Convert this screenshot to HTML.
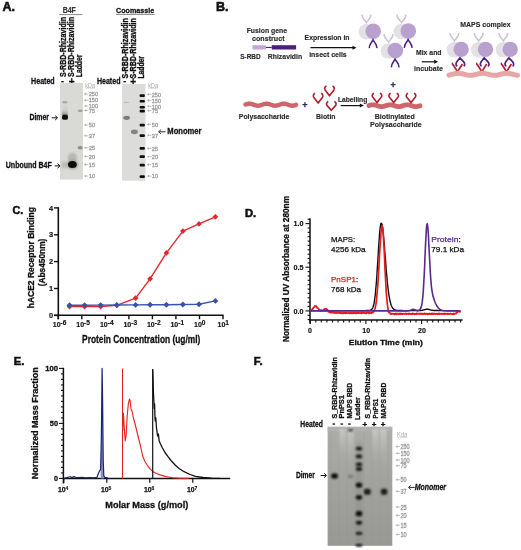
<!DOCTYPE html>
<html><head><meta charset="utf-8"><title>Figure</title>
<style>
html,body{margin:0;padding:0;background:#fff;}
body{width:521px;height:550px;overflow:hidden;}
svg{display:block;font-family:'Liberation Sans', Arial, sans-serif;filter:blur(0.35px);}
</style></head>
<body>
<svg width="521" height="550" viewBox="0 0 521 550">
<defs>
<filter id="b1" x="-50%" y="-50%" width="200%" height="200%"><feGaussianBlur stdDeviation="0.7"/></filter>
<filter id="b2" x="-50%" y="-50%" width="200%" height="200%"><feGaussianBlur stdDeviation="1.2"/></filter>
<filter id="b15" x="-50%" y="-50%" width="200%" height="200%"><feGaussianBlur stdDeviation="0.95"/></filter>
<linearGradient id="smear1" x1="0" y1="0" x2="0" y2="1"><stop offset="0" stop-color="#c8c8c6" stop-opacity="0.1"/><stop offset="0.6" stop-color="#b0b0ae" stop-opacity="0.35"/><stop offset="1" stop-color="#707070" stop-opacity="0.8"/></linearGradient>
<radialGradient id="halo" cx="0.5" cy="0.55" r="0.5"><stop offset="0" stop-color="#777" stop-opacity="0.9"/><stop offset="0.5" stop-color="#aaa" stop-opacity="0.5"/><stop offset="1" stop-color="#d6d6d3" stop-opacity="0"/></radialGradient>
<linearGradient id="fsmear" x1="0" y1="0" x2="0" y2="1"><stop offset="0" stop-color="#cacac6" stop-opacity="0.9"/><stop offset="0.45" stop-color="#bdbdb9" stop-opacity="0.55"/><stop offset="1" stop-color="#aaaaa6" stop-opacity="0"/></linearGradient>
<linearGradient id="fgel" x1="0" y1="0" x2="0" y2="1"><stop offset="0" stop-color="#acada9"/><stop offset="0.5" stop-color="#a1a29e"/><stop offset="1" stop-color="#989995"/></linearGradient>
</defs>
<rect width="521" height="550" fill="#fff"/>
<text x="2.5" y="11.2" font-size="12.5" font-weight="bold" fill="#111" text-anchor="start" stroke="#111" stroke-width="0.6" >A.</text>
<text x="62.7" y="13.0" font-size="8.4" font-weight="bold" fill="#333" text-anchor="start" textLength="13.2" lengthAdjust="spacingAndGlyphs" stroke="#333" stroke-width="0.2" >B4F</text>
<line x1="59.2" y1="14.6" x2="82.3" y2="14.6" stroke="#666" stroke-width="0.8" />
<text transform="translate(65.8,77.0) rotate(-90)" x="0" y="0" font-size="8.6" font-weight="bold" fill="#111" textLength="60.0" lengthAdjust="spacingAndGlyphs" stroke="#111" stroke-width="0.3">S-RBD-Rhizavidin</text>
<text transform="translate(73.8,77.0) rotate(-90)" x="0" y="0" font-size="8.6" font-weight="bold" fill="#111" textLength="60.0" lengthAdjust="spacingAndGlyphs" stroke="#111" stroke-width="0.3">S-RBD-Rhizavidin</text>
<text transform="translate(82.0,77.2) rotate(-90)" x="0" y="0" font-size="8.6" font-weight="bold" fill="#111" textLength="22.6" lengthAdjust="spacingAndGlyphs" stroke="#111" stroke-width="0.3">Ladder</text>
<text x="31.1" y="84.2" font-size="9.6" font-weight="bold" fill="#111" text-anchor="start" textLength="23.6" lengthAdjust="spacingAndGlyphs" stroke="#111" stroke-width="0.3" >Heated</text>
<text x="62.5" y="84.0" font-size="9" font-weight="bold" fill="#111" text-anchor="middle" stroke="#111" stroke-width="0.3" >-</text>
<text x="71.7" y="84.6" font-size="10" font-weight="bold" fill="#111" text-anchor="middle" stroke="#111" stroke-width="0.3" >+</text>
<rect x="60.0" y="83.0" width="23.0" height="96.6" fill="#d9d9d6" />
<rect x="62.0" y="103.5" width="5.8" height="11.5" fill="url(#smear1)" filter="url(#b1)"/>
<g filter="url(#b1)">
<ellipse cx="64.9" cy="102.3" rx="2.9" ry="1.2" fill="#a9a9a7" />
<rect x="62.0" y="114.8" width="6.0" height="4.9" rx="1.6" fill="#0b0b0b"/>
<ellipse cx="80.2" cy="110.7" rx="2.6" ry="1.3" fill="#a2a2a0" />
<ellipse cx="80.2" cy="147.7" rx="2.5" ry="1.8" fill="#8e8e8c" />
</g>
<g filter="url(#b2)">
<ellipse cx="64.2" cy="165.0" rx="3.2" ry="3.4" fill="#bdbdbb" />
<ellipse cx="72.4" cy="158.0" rx="4.5" ry="5.5" fill="#9a9a98" opacity="0.55"/>
<ellipse cx="72.4" cy="164.6" rx="6.0" ry="4.8" fill="#8a8a88" opacity="0.6"/>
</g>
<g filter="url(#b1)">
<ellipse cx="72.4" cy="164.6" rx="4.4" ry="3.5" fill="#0a0a0a" />
</g>
<text x="85.3" y="87.8" font-size="6.4" font-weight="normal" fill="#a6a6a6" text-anchor="start" textLength="9.6" lengthAdjust="spacingAndGlyphs" >kDa</text>
<line x1="85.3" y1="88.2" x2="94.9" y2="88.2" stroke="#c4c4c4" stroke-width="0.6" />
<path d="M84.0,93.9 L85.9,92.6 L85.9,95.2 Z" fill="#a6a6a6"/>
<line x1="85.6" y1="93.9" x2="88.4" y2="93.9" stroke="#a6a6a6" stroke-width="0.7" />
<text x="88.8" y="96.1" font-size="6.0" font-weight="normal" fill="#a0a0a0" text-anchor="start" textLength="9.2" lengthAdjust="spacingAndGlyphs" stroke="#a0a0a0" stroke-width="0.35" >250</text>
<path d="M84.0,100.2 L85.9,98.9 L85.9,101.5 Z" fill="#a6a6a6"/>
<line x1="85.6" y1="100.2" x2="88.4" y2="100.2" stroke="#a6a6a6" stroke-width="0.7" />
<text x="88.8" y="102.4" font-size="6.0" font-weight="normal" fill="#a0a0a0" text-anchor="start" textLength="9.2" lengthAdjust="spacingAndGlyphs" stroke="#a0a0a0" stroke-width="0.35" >150</text>
<path d="M84.0,106.0 L85.9,104.7 L85.9,107.3 Z" fill="#a6a6a6"/>
<line x1="85.6" y1="106.0" x2="88.4" y2="106.0" stroke="#a6a6a6" stroke-width="0.7" />
<text x="88.8" y="108.2" font-size="6.0" font-weight="normal" fill="#a0a0a0" text-anchor="start" textLength="9.2" lengthAdjust="spacingAndGlyphs" stroke="#a0a0a0" stroke-width="0.35" >100</text>
<path d="M84.0,110.5 L85.9,109.2 L85.9,111.8 Z" fill="#a6a6a6"/>
<line x1="85.6" y1="110.5" x2="88.4" y2="110.5" stroke="#a6a6a6" stroke-width="0.7" />
<text x="88.8" y="112.7" font-size="6.0" font-weight="normal" fill="#a0a0a0" text-anchor="start" textLength="6.2" lengthAdjust="spacingAndGlyphs" stroke="#a0a0a0" stroke-width="0.35" >75</text>
<path d="M84.0,125.0 L85.9,123.7 L85.9,126.3 Z" fill="#a6a6a6"/>
<line x1="85.6" y1="125.0" x2="88.4" y2="125.0" stroke="#a6a6a6" stroke-width="0.7" />
<text x="88.8" y="127.2" font-size="6.0" font-weight="normal" fill="#a0a0a0" text-anchor="start" textLength="6.2" lengthAdjust="spacingAndGlyphs" stroke="#a0a0a0" stroke-width="0.35" >50</text>
<path d="M84.0,135.8 L85.9,134.5 L85.9,137.1 Z" fill="#a6a6a6"/>
<line x1="85.6" y1="135.8" x2="88.4" y2="135.8" stroke="#a6a6a6" stroke-width="0.7" />
<text x="88.8" y="138.0" font-size="6.0" font-weight="normal" fill="#a0a0a0" text-anchor="start" textLength="6.2" lengthAdjust="spacingAndGlyphs" stroke="#a0a0a0" stroke-width="0.35" >37</text>
<path d="M84.0,147.7 L85.9,146.4 L85.9,149.0 Z" fill="#a6a6a6"/>
<line x1="85.6" y1="147.7" x2="88.4" y2="147.7" stroke="#a6a6a6" stroke-width="0.7" />
<text x="88.8" y="149.9" font-size="6.0" font-weight="normal" fill="#a0a0a0" text-anchor="start" textLength="6.2" lengthAdjust="spacingAndGlyphs" stroke="#a0a0a0" stroke-width="0.35" >25</text>
<path d="M84.0,156.5 L85.9,155.2 L85.9,157.8 Z" fill="#a6a6a6"/>
<line x1="85.6" y1="156.5" x2="88.4" y2="156.5" stroke="#a6a6a6" stroke-width="0.7" />
<text x="88.8" y="158.7" font-size="6.0" font-weight="normal" fill="#a0a0a0" text-anchor="start" textLength="6.2" lengthAdjust="spacingAndGlyphs" stroke="#a0a0a0" stroke-width="0.35" >20</text>
<path d="M84.0,164.6 L85.9,163.3 L85.9,165.9 Z" fill="#a6a6a6"/>
<line x1="85.6" y1="164.6" x2="88.4" y2="164.6" stroke="#a6a6a6" stroke-width="0.7" />
<text x="88.8" y="166.8" font-size="6.0" font-weight="normal" fill="#a0a0a0" text-anchor="start" textLength="6.2" lengthAdjust="spacingAndGlyphs" stroke="#a0a0a0" stroke-width="0.35" >15</text>
<path d="M84.0,176.0 L85.9,174.7 L85.9,177.3 Z" fill="#a6a6a6"/>
<line x1="85.6" y1="176.0" x2="88.4" y2="176.0" stroke="#a6a6a6" stroke-width="0.7" />
<text x="88.8" y="178.2" font-size="6.0" font-weight="normal" fill="#a0a0a0" text-anchor="start" textLength="6.2" lengthAdjust="spacingAndGlyphs" stroke="#a0a0a0" stroke-width="0.35" >10</text>
<text x="29.4" y="120.1" font-size="8.8" font-weight="bold" fill="#111" text-anchor="start" textLength="19.6" lengthAdjust="spacingAndGlyphs" stroke="#111" stroke-width="0.3" >Dimer</text>
<path d="M51.8,117.8 L57.0,117.8 M55.2,115.6 L57.6,117.8 L55.2,120.0" fill="none" stroke="#111" stroke-width="1.0"/>
<text x="5.8" y="168.2" font-size="8.8" font-weight="bold" fill="#111" text-anchor="start" textLength="46.0" lengthAdjust="spacingAndGlyphs" stroke="#111" stroke-width="0.3" >Unbound B4F</text>
<path d="M54.7,165.9 L59.4,165.9 M57.6,163.7 L60.0,165.9 L57.6,168.1" fill="none" stroke="#111" stroke-width="1.0"/>
<text x="116.1" y="12.7" font-size="8.0" font-weight="bold" fill="#111" text-anchor="start" textLength="38.0" lengthAdjust="spacingAndGlyphs" stroke="#111" stroke-width="0.3" >Coomassie</text>
<line x1="116.0" y1="14.4" x2="154.7" y2="14.4" stroke="#666" stroke-width="0.8" />
<text transform="translate(128.1,78.6) rotate(-90)" x="0" y="0" font-size="8.6" font-weight="bold" fill="#111" textLength="60.5" lengthAdjust="spacingAndGlyphs" stroke="#111" stroke-width="0.35">S-RBD-Rhizavidin</text>
<text transform="translate(136.0,78.6) rotate(-90)" x="0" y="0" font-size="8.6" font-weight="bold" fill="#111" textLength="60.5" lengthAdjust="spacingAndGlyphs" stroke="#111" stroke-width="0.35">S-RBD-Rhizavidin</text>
<text transform="translate(144.3,78.6) rotate(-90)" x="0" y="0" font-size="8.4" font-weight="bold" fill="#111" textLength="22.6" lengthAdjust="spacingAndGlyphs" stroke="#111" stroke-width="0.35">Ladder</text>
<text x="96.9" y="83.8" font-size="9.6" font-weight="bold" fill="#111" text-anchor="start" textLength="23.6" lengthAdjust="spacingAndGlyphs" stroke="#111" stroke-width="0.3" >Heated</text>
<text x="124.8" y="84.3" font-size="9" font-weight="bold" fill="#111" text-anchor="middle" stroke="#111" stroke-width="0.3" >-</text>
<text x="133.2" y="84.8" font-size="10" font-weight="bold" fill="#111" text-anchor="middle" stroke="#111" stroke-width="0.3" >+</text>
<rect x="122.0" y="84.0" width="23.5" height="96.7" fill="#dcdcda" />
<g filter="url(#b1)">
<ellipse cx="126.5" cy="102.5" rx="2.8" ry="0.8" fill="#bbbbb9" />
<ellipse cx="126.6" cy="117.8" rx="3.4" ry="2.1" fill="#7c7c7a" />
<ellipse cx="134.4" cy="131.8" rx="3.5" ry="2.4" fill="#838381" />
<rect x="139.6" y="94.2" width="5.3" height="2.7" rx="1.0" fill="#111"/>
<rect x="139.6" y="99.9" width="5.3" height="2.7" rx="1.0" fill="#111"/>
<rect x="139.6" y="105.9" width="5.3" height="2.7" rx="1.0" fill="#111"/>
<rect x="139.6" y="109.8" width="5.3" height="2.7" rx="1.0" fill="#111"/>
<rect x="139.6" y="123.7" width="5.3" height="2.7" rx="1.0" fill="#111"/>
<rect x="139.6" y="134.2" width="5.3" height="2.7" rx="1.0" fill="#111"/>
<rect x="139.6" y="147.1" width="5.3" height="2.7" rx="1.0" fill="#111"/>
<rect x="139.6" y="155.3" width="5.3" height="2.7" rx="1.0" fill="#111"/>
<rect x="139.6" y="163.8" width="5.3" height="2.7" rx="1.0" fill="#111"/>
<rect x="139.6" y="175.3" width="5.3" height="2.7" rx="1.0" fill="#111"/>
</g>
<text x="148.3" y="88.0" font-size="6.4" font-weight="normal" fill="#a6a6a6" text-anchor="start" textLength="9.6" lengthAdjust="spacingAndGlyphs" >kDa</text>
<line x1="148.3" y1="88.4" x2="157.9" y2="88.4" stroke="#c4c4c4" stroke-width="0.6" />
<path d="M147.0,94.4 L148.9,93.1 L148.9,95.7 Z" fill="#a6a6a6"/>
<line x1="148.6" y1="94.4" x2="151.4" y2="94.4" stroke="#a6a6a6" stroke-width="0.7" />
<text x="151.8" y="96.6" font-size="6.0" font-weight="normal" fill="#a0a0a0" text-anchor="start" textLength="9.2" lengthAdjust="spacingAndGlyphs" stroke="#a0a0a0" stroke-width="0.35" >250</text>
<path d="M147.0,100.4 L148.9,99.1 L148.9,101.7 Z" fill="#a6a6a6"/>
<line x1="148.6" y1="100.4" x2="151.4" y2="100.4" stroke="#a6a6a6" stroke-width="0.7" />
<text x="151.8" y="102.6" font-size="6.0" font-weight="normal" fill="#a0a0a0" text-anchor="start" textLength="9.2" lengthAdjust="spacingAndGlyphs" stroke="#a0a0a0" stroke-width="0.35" >150</text>
<path d="M147.0,106.3 L148.9,105.0 L148.9,107.6 Z" fill="#a6a6a6"/>
<line x1="148.6" y1="106.3" x2="151.4" y2="106.3" stroke="#a6a6a6" stroke-width="0.7" />
<text x="151.8" y="108.5" font-size="6.0" font-weight="normal" fill="#a0a0a0" text-anchor="start" textLength="9.2" lengthAdjust="spacingAndGlyphs" stroke="#a0a0a0" stroke-width="0.35" >100</text>
<path d="M147.0,110.7 L148.9,109.4 L148.9,112.0 Z" fill="#a6a6a6"/>
<line x1="148.6" y1="110.7" x2="151.4" y2="110.7" stroke="#a6a6a6" stroke-width="0.7" />
<text x="151.8" y="112.9" font-size="6.0" font-weight="normal" fill="#a0a0a0" text-anchor="start" textLength="6.2" lengthAdjust="spacingAndGlyphs" stroke="#a0a0a0" stroke-width="0.35" >75</text>
<path d="M147.0,124.4 L148.9,123.1 L148.9,125.7 Z" fill="#a6a6a6"/>
<line x1="148.6" y1="124.4" x2="151.4" y2="124.4" stroke="#a6a6a6" stroke-width="0.7" />
<text x="151.8" y="126.6" font-size="6.0" font-weight="normal" fill="#a0a0a0" text-anchor="start" textLength="6.2" lengthAdjust="spacingAndGlyphs" stroke="#a0a0a0" stroke-width="0.35" >50</text>
<path d="M147.0,135.3 L148.9,134.0 L148.9,136.6 Z" fill="#a6a6a6"/>
<line x1="148.6" y1="135.3" x2="151.4" y2="135.3" stroke="#a6a6a6" stroke-width="0.7" />
<text x="151.8" y="137.5" font-size="6.0" font-weight="normal" fill="#a0a0a0" text-anchor="start" textLength="6.2" lengthAdjust="spacingAndGlyphs" stroke="#a0a0a0" stroke-width="0.35" >37</text>
<path d="M147.0,148.4 L148.9,147.1 L148.9,149.7 Z" fill="#a6a6a6"/>
<line x1="148.6" y1="148.4" x2="151.4" y2="148.4" stroke="#a6a6a6" stroke-width="0.7" />
<text x="151.8" y="150.6" font-size="6.0" font-weight="normal" fill="#a0a0a0" text-anchor="start" textLength="6.2" lengthAdjust="spacingAndGlyphs" stroke="#a0a0a0" stroke-width="0.35" >25</text>
<path d="M147.0,156.7 L148.9,155.4 L148.9,158.0 Z" fill="#a6a6a6"/>
<line x1="148.6" y1="156.7" x2="151.4" y2="156.7" stroke="#a6a6a6" stroke-width="0.7" />
<text x="151.8" y="158.9" font-size="6.0" font-weight="normal" fill="#a0a0a0" text-anchor="start" textLength="6.2" lengthAdjust="spacingAndGlyphs" stroke="#a0a0a0" stroke-width="0.35" >20</text>
<path d="M147.0,164.6 L148.9,163.3 L148.9,165.9 Z" fill="#a6a6a6"/>
<line x1="148.6" y1="164.6" x2="151.4" y2="164.6" stroke="#a6a6a6" stroke-width="0.7" />
<text x="151.8" y="166.8" font-size="6.0" font-weight="normal" fill="#a0a0a0" text-anchor="start" textLength="6.2" lengthAdjust="spacingAndGlyphs" stroke="#a0a0a0" stroke-width="0.35" >15</text>
<path d="M147.0,176.1 L148.9,174.8 L148.9,177.4 Z" fill="#a6a6a6"/>
<line x1="148.6" y1="176.1" x2="151.4" y2="176.1" stroke="#a6a6a6" stroke-width="0.7" />
<text x="151.8" y="178.3" font-size="6.0" font-weight="normal" fill="#a0a0a0" text-anchor="start" textLength="6.2" lengthAdjust="spacingAndGlyphs" stroke="#a0a0a0" stroke-width="0.35" >10</text>
<path d="M165.6,131.8 L159.2,131.8 M160.9,129.7 L158.6,131.8 L160.9,133.9" fill="none" stroke="#111" stroke-width="0.9"/>
<text x="167.3" y="133.9" font-size="9.4" font-weight="bold" fill="#111" text-anchor="start" textLength="34.2" lengthAdjust="spacingAndGlyphs" stroke="#111" stroke-width="0.3" >Monomer</text>
<text x="216.0" y="10.8" font-size="12.5" font-weight="bold" fill="#111" text-anchor="start" stroke="#111" stroke-width="0.6" >B.</text>
<text x="246.7" y="33.2" font-size="7.0" font-weight="bold" fill="#2a2a2a" text-anchor="start" textLength="40.3" lengthAdjust="spacingAndGlyphs" stroke="#2a2a2a" stroke-width="0.15" >Fusion gene</text>
<text x="252.0" y="41.4" font-size="7.0" font-weight="bold" fill="#2a2a2a" text-anchor="start" textLength="32.6" lengthAdjust="spacingAndGlyphs" stroke="#2a2a2a" stroke-width="0.15" >construct</text>
<rect x="252.5" y="45.2" width="13.4" height="4.3" fill="#c7a5da" />
<line x1="265.9" y1="47.4" x2="271.7" y2="47.4" stroke="#222" stroke-width="1" />
<rect x="271.7" y="45.2" width="24.4" height="4.3" fill="#4b1f7e" />
<text x="240.2" y="59.2" font-size="7.0" font-weight="bold" fill="#2a2a2a" text-anchor="start" textLength="20.5" lengthAdjust="spacingAndGlyphs" stroke="#2a2a2a" stroke-width="0.15" >S-RBD</text>
<text x="267.8" y="59.2" font-size="7.0" font-weight="bold" fill="#2a2a2a" text-anchor="start" textLength="34.4" lengthAdjust="spacingAndGlyphs" stroke="#2a2a2a" stroke-width="0.15" >Rhizavidin</text>
<text x="304.6" y="40.3" font-size="7.0" font-weight="bold" fill="#2a2a2a" text-anchor="start" textLength="44.9" lengthAdjust="spacingAndGlyphs" stroke="#2a2a2a" stroke-width="0.15" >Expression in</text>
<line x1="310.4" y1="47.7" x2="353.0" y2="47.7" stroke="#111" stroke-width="1.2" />
<polygon points="356.5,47.7 352.5,45.7 352.5,49.7" fill="#111"/>
<text x="309.2" y="56.7" font-size="7.0" font-weight="bold" fill="#2a2a2a" text-anchor="start" textLength="37.5" lengthAdjust="spacingAndGlyphs" stroke="#2a2a2a" stroke-width="0.15" >insect cells</text>
<ellipse cx="366.4" cy="31.7" rx="7.8" ry="7.8" fill="#e3e0e6" />
<path d="M362.1,14.7 C361.5,18.5 365.0,20.1 366.4,22.7 C367.8,20.1 371.3,18.5 370.7,14.7" fill="none" stroke="#cbc3d4" stroke-width="1.5"/>
<ellipse cx="373.2" cy="31.3" rx="7.8" ry="7.8" fill="#b8a0cf" />
<path d="M369.3,48.1 C368.8,44.4 371.8,42.4 373.0,39.9 C374.3,42.4 377.4,44.4 376.9,48.1" fill="none" stroke="#4a2484" stroke-width="1.6"/>
<ellipse cx="401.5" cy="31.5" rx="7.8" ry="7.8" fill="#e3e0e6" />
<path d="M397.2,14.5 C396.6,18.3 400.1,19.9 401.5,22.5 C402.9,19.9 406.4,18.3 405.8,14.5" fill="none" stroke="#cbc3d4" stroke-width="1.5"/>
<ellipse cx="408.3" cy="31.1" rx="7.8" ry="7.8" fill="#b8a0cf" />
<path d="M404.4,47.9 C403.9,44.2 406.9,42.2 408.1,39.7 C409.4,42.2 412.5,44.2 412.0,47.9" fill="none" stroke="#4a2484" stroke-width="1.6"/>
<ellipse cx="388.5" cy="51.0" rx="7.8" ry="7.8" fill="#e3e0e6" />
<path d="M384.2,34.0 C383.6,37.8 387.1,39.4 388.5,42.0 C389.9,39.4 393.4,37.8 392.8,34.0" fill="none" stroke="#cbc3d4" stroke-width="1.5"/>
<ellipse cx="395.3" cy="50.6" rx="7.8" ry="7.8" fill="#b8a0cf" />
<path d="M391.4,67.4 C390.9,63.7 393.9,61.7 395.1,59.2 C396.4,61.7 399.5,63.7 399.0,67.4" fill="none" stroke="#4a2484" stroke-width="1.6"/>
<text x="416.0" y="54.6" font-size="7.0" font-weight="bold" fill="#2a2a2a" text-anchor="start" textLength="25.5" lengthAdjust="spacingAndGlyphs" stroke="#2a2a2a" stroke-width="0.15" >Mix and</text>
<line x1="421.8" y1="61.8" x2="434.6" y2="61.8" stroke="#111" stroke-width="1.2" />
<polygon points="438.1,61.8 434.1,59.8 434.1,63.8" fill="#111"/>
<text x="414.1" y="71.4" font-size="7.0" font-weight="bold" fill="#2a2a2a" text-anchor="start" textLength="28.8" lengthAdjust="spacingAndGlyphs" stroke="#2a2a2a" stroke-width="0.15" >incubate</text>
<text x="460.3" y="26.7" font-size="6.8" font-weight="bold" fill="#2a2a2a" text-anchor="start" textLength="50.3" lengthAdjust="spacingAndGlyphs" stroke="#2a2a2a" stroke-width="0.15" >MAPS complex</text>
<ellipse cx="454.4" cy="49.8" rx="7.7" ry="7.7" fill="#e3e0e6" />
<path d="M450.1,32.8 C449.5,36.6 453.0,38.2 454.4,40.8 C455.8,38.2 459.3,36.6 458.7,32.8" fill="none" stroke="#cbc3d4" stroke-width="1.5"/>
<ellipse cx="461.2" cy="49.4" rx="7.7" ry="7.7" fill="#b8a0cf" />
<path d="M452.9,63.0 C452.2,63.6 452.5,64.6 453.3,65.0 L457.5,71.6 L462.4,64.0" fill="none" stroke="#b11f2d" stroke-width="1.7" stroke-linejoin="miter"/>
<path d="M457.3,66.2 C455.7,65.6 455.7,63.5 456.7,62.0 L459.9,57.8 L463.5,61.6 C465.1,63.4 464.9,65.4 463.7,66.4" fill="none" stroke="#4a2484" stroke-width="1.7" stroke-linejoin="round"/>
<ellipse cx="478.7" cy="49.8" rx="7.7" ry="7.7" fill="#e3e0e6" />
<path d="M474.4,32.8 C473.8,36.6 477.3,38.2 478.7,40.8 C480.1,38.2 483.6,36.6 483.0,32.8" fill="none" stroke="#cbc3d4" stroke-width="1.5"/>
<ellipse cx="485.5" cy="49.4" rx="7.7" ry="7.7" fill="#b8a0cf" />
<path d="M477.2,63.0 C476.5,63.6 476.8,64.6 477.6,65.0 L481.8,71.6 L486.7,64.0" fill="none" stroke="#b11f2d" stroke-width="1.7" stroke-linejoin="miter"/>
<path d="M481.6,66.2 C480.0,65.6 480.0,63.5 481.0,62.0 L484.2,57.8 L487.8,61.6 C489.4,63.4 489.2,65.4 488.0,66.4" fill="none" stroke="#4a2484" stroke-width="1.7" stroke-linejoin="round"/>
<ellipse cx="503.4" cy="49.8" rx="7.7" ry="7.7" fill="#e3e0e6" />
<path d="M499.1,32.8 C498.5,36.6 502.0,38.2 503.4,40.8 C504.8,38.2 508.3,36.6 507.7,32.8" fill="none" stroke="#cbc3d4" stroke-width="1.5"/>
<ellipse cx="510.2" cy="49.4" rx="7.7" ry="7.7" fill="#b8a0cf" />
<path d="M501.9,63.0 C501.2,63.6 501.5,64.6 502.3,65.0 L506.5,71.6 L511.4,64.0" fill="none" stroke="#b11f2d" stroke-width="1.7" stroke-linejoin="miter"/>
<path d="M506.3,66.2 C504.7,65.6 504.7,63.5 505.7,62.0 L508.9,57.8 L512.5,61.6 C514.1,63.4 513.9,65.4 512.7,66.4" fill="none" stroke="#4a2484" stroke-width="1.7" stroke-linejoin="round"/>
<polyline points="448.8,75.1 449.3,75.0 449.8,74.9 450.3,74.8 450.8,74.6 451.3,74.5 451.8,74.4 452.3,74.3 452.8,74.1 453.3,74.0 453.8,73.9 454.3,73.8 454.8,73.7 455.3,73.6 455.8,73.5 456.3,73.4 456.8,73.4 457.3,73.3 457.8,73.3 458.3,73.3 458.8,73.3 459.3,73.3 459.8,73.4 460.2,73.4 460.7,73.5 461.2,73.6 461.7,73.7 462.2,73.8 462.7,73.9 463.2,74.0 463.7,74.2 464.2,74.3 464.7,74.4 465.2,74.6 465.7,74.7 466.2,74.8 466.7,74.9 467.2,75.0 467.7,75.1 468.2,75.2 468.7,75.2 469.2,75.3 469.7,75.3 470.2,75.3 470.7,75.3 471.2,75.3 471.7,75.2 472.2,75.2 472.7,75.1 473.2,75.0 473.7,74.9 474.2,74.8 474.7,74.7 475.2,74.6 475.7,74.5 476.2,74.3 476.7,74.2 477.2,74.1 477.7,74.0 478.2,73.8 478.7,73.7 479.2,73.6 479.7,73.5 480.2,73.5 480.7,73.4 481.2,73.3 481.7,73.3 482.2,73.3 482.7,73.3 483.1,73.3 483.6,73.4 484.1,73.4 484.6,73.5 485.1,73.5 485.6,73.6 486.1,73.7 486.6,73.9 487.1,74.0 487.6,74.1 488.1,74.2 488.6,74.4 489.1,74.5 489.6,74.6 490.1,74.7 490.6,74.8 491.1,74.9 491.6,75.0 492.1,75.1 492.6,75.2 493.1,75.2 493.6,75.3 494.1,75.3 494.6,75.3 495.1,75.3 495.6,75.3 496.1,75.2 496.6,75.2 497.1,75.1 497.6,75.0 498.1,74.9 498.6,74.8 499.1,74.7 499.6,74.5 500.1,74.4 500.6,74.3 501.1,74.2 501.6,74.0 502.1,73.9 502.6,73.8 503.1,73.7 503.6,73.6 504.1,73.5 504.6,73.4 505.1,73.4 505.6,73.3 506.1,73.3 506.5,73.3 507.0,73.3 507.5,73.3 508.0,73.4 508.5,73.4 509.0,73.5 509.5,73.6 510.0,73.7 510.5,73.8 511.0,73.9 511.5,74.0 512.0,74.1 512.5,74.3 513.0,74.4 513.5,74.5 514.0,74.7 514.5,74.8 515.0,74.9 515.5,75.0 516.0,75.1 516.5,75.1 517.0,75.2 517.5,75.3" fill="none" stroke="#e6a6a8" stroke-width="5.0" stroke-linejoin="round" stroke-linecap="round"/>
<polyline points="245.5,104.5 246.0,104.4 246.5,104.2 247.0,104.1 247.5,103.9 248.0,103.8 248.5,103.8 249.0,103.7 249.5,103.7 250.0,103.7 250.5,103.8 250.9,103.9 251.4,104.0 251.9,104.1 252.4,104.3 252.9,104.4 253.4,104.6 253.9,104.8 254.4,105.0 254.9,105.1 255.4,105.3 255.9,105.4 256.4,105.5 256.9,105.6 257.4,105.7 257.9,105.7 258.4,105.7 258.9,105.6 259.4,105.6 259.9,105.5 260.4,105.3 260.8,105.2 261.3,105.0 261.8,104.9 262.3,104.7 262.8,104.5 263.3,104.3 263.8,104.2 264.3,104.0 264.8,103.9 265.3,103.8 265.8,103.7 266.3,103.7 266.8,103.7 267.3,103.7 267.8,103.8 268.3,103.9 268.8,104.0 269.3,104.1 269.8,104.3 270.3,104.5 270.8,104.7 271.2,104.8 271.7,105.0 272.2,105.2 272.7,105.3 273.2,105.5 273.7,105.6 274.2,105.6 274.7,105.7 275.2,105.7 275.7,105.7 276.2,105.6 276.7,105.5 277.2,105.4 277.7,105.3 278.2,105.2 278.7,105.0 279.2,104.8 279.7,104.6 280.2,104.5 280.7,104.3 281.1,104.1 281.6,104.0 282.1,103.9 282.6,103.8 283.1,103.7 283.6,103.7 284.1,103.7 284.6,103.7 285.1,103.8 285.6,103.9 286.1,104.0 286.6,104.2 287.1,104.4 287.6,104.5 288.1,104.7 288.6,104.9 289.1,105.1 289.6,105.2 290.1,105.4 290.6,105.5 291.0,105.6 291.5,105.7 292.0,105.7 292.5,105.7 293.0,105.7 293.5,105.6 294.0,105.5 294.5,105.4 295.0,105.3 295.5,105.1 296.0,104.9" fill="none" stroke="#d0646c" stroke-width="4.4" stroke-linejoin="round" stroke-linecap="round"/>
<text x="238.8" y="118.5" font-size="7.0" font-weight="bold" fill="#2a2a2a" text-anchor="start" textLength="50.6" lengthAdjust="spacingAndGlyphs" stroke="#2a2a2a" stroke-width="0.15" >Polysaccharide</text>
<text x="304.9" y="108.0" font-size="9" font-weight="bold" fill="#2b3266" text-anchor="middle" stroke="#2b3266" stroke-width="0.3" >+</text>
<path d="M315.1,93.3 C313.5,93.9 312.8,95.7 313.7,97.2 L318.1,103.1 L322.5,97.2 C323.4,95.7 322.7,93.9 321.1,93.3" fill="none" stroke="#b11f2d" stroke-width="1.6" stroke-linejoin="round"/>
<path d="M326.5,86.0 C324.9,86.6 324.2,88.4 325.1,89.9 L329.5,95.8 L333.9,89.9 C334.8,88.4 334.1,86.6 332.5,86.0" fill="none" stroke="#b11f2d" stroke-width="1.6" stroke-linejoin="round"/>
<path d="M328.3,101.5 C326.7,102.1 326.0,103.9 326.9,105.4 L331.3,110.3 L335.7,105.4 C336.6,103.9 335.9,102.1 334.3,101.5" fill="none" stroke="#b11f2d" stroke-width="1.6" stroke-linejoin="round"/>
<text x="316.0" y="118.9" font-size="7.0" font-weight="bold" fill="#2a2a2a" text-anchor="start" textLength="19.5" lengthAdjust="spacingAndGlyphs" stroke="#2a2a2a" stroke-width="0.15" >Biotin</text>
<text x="337.9" y="101.9" font-size="7.0" font-weight="bold" fill="#2a2a2a" text-anchor="start" textLength="29.4" lengthAdjust="spacingAndGlyphs" stroke="#2a2a2a" stroke-width="0.15" >Labelling</text>
<line x1="340.8" y1="105.6" x2="360.3" y2="105.6" stroke="#111" stroke-width="1.2" />
<polygon points="363.8,105.6 359.8,103.6 359.8,107.6" fill="#111"/>
<polyline points="369.0,105.6 369.5,105.4 370.0,105.3 370.5,105.1 371.0,105.0 371.5,104.9 372.0,104.8 372.5,104.8 373.0,104.8 373.5,104.8 374.0,104.9 374.4,104.9 374.9,105.0 375.4,105.2 375.9,105.3 376.4,105.5 376.9,105.6 377.4,105.8 377.9,105.9 378.4,106.1 378.9,106.2 379.4,106.4 379.9,106.5 380.4,106.5 380.9,106.6 381.4,106.6 381.9,106.6 382.4,106.6 382.9,106.5 383.4,106.4 383.9,106.3 384.3,106.1 384.8,106.0 385.3,105.8 385.8,105.7 386.3,105.5 386.8,105.4 387.3,105.2 387.8,105.1 388.3,105.0 388.8,104.9 389.3,104.8 389.8,104.8 390.3,104.8 390.8,104.8 391.3,104.9 391.8,105.0 392.3,105.1 392.8,105.2 393.3,105.3 393.8,105.5 394.3,105.7 394.7,105.8 395.2,106.0 395.7,106.1 396.2,106.3 396.7,106.4 397.2,106.5 397.7,106.5 398.2,106.6 398.7,106.6 399.2,106.6 399.7,106.5 400.2,106.5 400.7,106.4 401.2,106.2 401.7,106.1 402.2,106.0 402.7,105.8 403.2,105.6 403.7,105.5 404.2,105.3 404.7,105.2 405.1,105.1 405.6,105.0 406.1,104.9 406.6,104.8 407.1,104.8 407.6,104.8 408.1,104.8 408.6,104.9 409.1,105.0 409.6,105.1 410.1,105.2 410.6,105.4 411.1,105.5 411.6,105.7 412.1,105.9 412.6,106.0 413.1,106.2 413.6,106.3 414.1,106.4 414.6,106.5 415.0,106.6 415.5,106.6 416.0,106.6 416.5,106.6 417.0,106.5 417.5,106.4 418.0,106.3 418.5,106.2 419.0,106.1 419.5,105.9 420.0,105.8" fill="none" stroke="#d0646c" stroke-width="4.8" stroke-linejoin="round" stroke-linecap="round"/>
<path d="M374.0,93.2 C372.4,93.8 371.7,95.6 372.6,97.1 L377.0,102.6 L381.4,97.1 C382.3,95.6 381.6,93.8 380.0,93.2" fill="none" stroke="#b11f2d" stroke-width="1.6" stroke-linejoin="round"/>
<path d="M390.7,93.2 C389.1,93.8 388.4,95.6 389.3,97.1 L393.7,102.6 L398.1,97.1 C399.0,95.6 398.3,93.8 396.7,93.2" fill="none" stroke="#b11f2d" stroke-width="1.6" stroke-linejoin="round"/>
<path d="M408.0,93.2 C406.4,93.8 405.7,95.6 406.6,97.1 L411.0,102.6 L415.4,97.1 C416.3,95.6 415.6,93.8 414.0,93.2" fill="none" stroke="#b11f2d" stroke-width="1.6" stroke-linejoin="round"/>
<text x="393.2" y="88.0" font-size="9" font-weight="bold" fill="#2b3266" text-anchor="middle" stroke="#2b3266" stroke-width="0.3" >+</text>
<text x="374.7" y="118.6" font-size="7.0" font-weight="bold" fill="#2a2a2a" text-anchor="start" textLength="40.0" lengthAdjust="spacingAndGlyphs" stroke="#2a2a2a" stroke-width="0.15" >Biotinylated</text>
<text x="370.1" y="126.5" font-size="7.0" font-weight="bold" fill="#2a2a2a" text-anchor="start" textLength="51.6" lengthAdjust="spacingAndGlyphs" stroke="#2a2a2a" stroke-width="0.15" >Polysaccharide</text>
<text x="12.5" y="214.0" font-size="10.8" font-weight="bold" fill="#111" text-anchor="start" stroke="#111" stroke-width="0.55" >C.</text>
<line x1="58.3" y1="207.2" x2="58.3" y2="319.2" stroke="#111" stroke-width="1.6" />
<line x1="54.0" y1="315.3" x2="223.6" y2="315.3" stroke="#111" stroke-width="1.6" />
<line x1="54.0" y1="315.4" x2="58.3" y2="315.4" stroke="#111" stroke-width="1.4" />
<text x="53.2" y="318.0" font-size="7.4" font-weight="bold" fill="#111" text-anchor="end" stroke="#111" stroke-width="0.15" >0</text>
<line x1="54.0" y1="288.5" x2="58.3" y2="288.5" stroke="#111" stroke-width="1.4" />
<text x="53.2" y="291.1" font-size="7.4" font-weight="bold" fill="#111" text-anchor="end" stroke="#111" stroke-width="0.15" >1</text>
<line x1="54.0" y1="261.6" x2="58.3" y2="261.6" stroke="#111" stroke-width="1.4" />
<text x="53.2" y="264.2" font-size="7.4" font-weight="bold" fill="#111" text-anchor="end" stroke="#111" stroke-width="0.15" >2</text>
<line x1="54.0" y1="234.8" x2="58.3" y2="234.8" stroke="#111" stroke-width="1.4" />
<text x="53.2" y="237.4" font-size="7.4" font-weight="bold" fill="#111" text-anchor="end" stroke="#111" stroke-width="0.15" >3</text>
<line x1="54.0" y1="207.9" x2="58.3" y2="207.9" stroke="#111" stroke-width="1.4" />
<text x="53.2" y="210.5" font-size="7.4" font-weight="bold" fill="#111" text-anchor="end" stroke="#111" stroke-width="0.15" >4</text>
<line x1="58.3" y1="315.3" x2="58.3" y2="319.2" stroke="#111" stroke-width="1.4" />
<text x="52.8" y="327.2" font-size="7.0" font-weight="bold" fill="#111" stroke="#111" stroke-width="0.15">10<tspan dy="-2.5" font-size="6.6">-6</tspan></text>
<line x1="81.8" y1="315.3" x2="81.8" y2="319.2" stroke="#111" stroke-width="1.4" />
<text x="76.3" y="327.2" font-size="7.0" font-weight="bold" fill="#111" stroke="#111" stroke-width="0.15">10<tspan dy="-2.5" font-size="6.6">-5</tspan></text>
<line x1="105.4" y1="315.3" x2="105.4" y2="319.2" stroke="#111" stroke-width="1.4" />
<text x="99.9" y="327.2" font-size="7.0" font-weight="bold" fill="#111" stroke="#111" stroke-width="0.15">10<tspan dy="-2.5" font-size="6.6">-4</tspan></text>
<line x1="128.9" y1="315.3" x2="128.9" y2="319.2" stroke="#111" stroke-width="1.4" />
<text x="123.4" y="327.2" font-size="7.0" font-weight="bold" fill="#111" stroke="#111" stroke-width="0.15">10<tspan dy="-2.5" font-size="6.6">-3</tspan></text>
<line x1="152.4" y1="315.3" x2="152.4" y2="319.2" stroke="#111" stroke-width="1.4" />
<text x="146.9" y="327.2" font-size="7.0" font-weight="bold" fill="#111" stroke="#111" stroke-width="0.15">10<tspan dy="-2.5" font-size="6.6">-2</tspan></text>
<line x1="175.9" y1="315.3" x2="175.9" y2="319.2" stroke="#111" stroke-width="1.4" />
<text x="170.4" y="327.2" font-size="7.0" font-weight="bold" fill="#111" stroke="#111" stroke-width="0.15">10<tspan dy="-2.5" font-size="6.6">-1</tspan></text>
<line x1="199.5" y1="315.3" x2="199.5" y2="319.2" stroke="#111" stroke-width="1.4" />
<text x="194.0" y="327.2" font-size="7.0" font-weight="bold" fill="#111" stroke="#111" stroke-width="0.15">10<tspan dy="-2.5" font-size="6.6">0</tspan></text>
<line x1="223.0" y1="315.3" x2="223.0" y2="319.2" stroke="#111" stroke-width="1.4" />
<text x="217.5" y="327.2" font-size="7.0" font-weight="bold" fill="#111" stroke="#111" stroke-width="0.15">10<tspan dy="-2.5" font-size="6.6">1</tspan></text>
<polyline points="69.5,306.6 84.6,306.6 100.7,306.6 116.8,305.3 135.6,298.1 150.1,278.8 166.4,252.9 182.9,231.1 199.0,223.9 215.4,216.8" fill="none" stroke="#e3282b" stroke-width="1.4" stroke-linejoin="round" />
<rect x="67.5" y="304.6" width="4.0" height="4.0" fill="#e3282b" transform="rotate(45 69.5 306.6)"/>
<rect x="82.6" y="304.6" width="4.0" height="4.0" fill="#e3282b" transform="rotate(45 84.6 306.6)"/>
<rect x="98.7" y="304.6" width="4.0" height="4.0" fill="#e3282b" transform="rotate(45 100.7 306.6)"/>
<rect x="114.8" y="303.3" width="4.0" height="4.0" fill="#e3282b" transform="rotate(45 116.8 305.3)"/>
<rect x="133.6" y="296.1" width="4.0" height="4.0" fill="#e3282b" transform="rotate(45 135.6 298.1)"/>
<rect x="148.1" y="276.8" width="4.0" height="4.0" fill="#e3282b" transform="rotate(45 150.1 278.8)"/>
<rect x="164.4" y="250.9" width="4.0" height="4.0" fill="#e3282b" transform="rotate(45 166.4 252.9)"/>
<rect x="180.9" y="229.1" width="4.0" height="4.0" fill="#e3282b" transform="rotate(45 182.9 231.1)"/>
<rect x="197.0" y="221.9" width="4.0" height="4.0" fill="#e3282b" transform="rotate(45 199.0 223.9)"/>
<rect x="213.4" y="214.8" width="4.0" height="4.0" fill="#e3282b" transform="rotate(45 215.4 216.8)"/>
<polyline points="69.5,305.2 84.6,305.2 100.7,305.1 116.8,305.0 135.6,304.9 150.1,304.8 166.4,304.7 182.9,304.5 199.0,304.2 215.4,300.9" fill="none" stroke="#3856b0" stroke-width="1.4" stroke-linejoin="round" />
<rect x="67.4" y="303.1" width="4.2" height="4.2" fill="#3552a8" transform="rotate(45 69.5 305.2)"/>
<rect x="82.5" y="303.1" width="4.2" height="4.2" fill="#3552a8" transform="rotate(45 84.6 305.2)"/>
<rect x="98.6" y="303.0" width="4.2" height="4.2" fill="#3552a8" transform="rotate(45 100.7 305.1)"/>
<rect x="114.7" y="302.9" width="4.2" height="4.2" fill="#3552a8" transform="rotate(45 116.8 305.0)"/>
<rect x="133.5" y="302.8" width="4.2" height="4.2" fill="#3552a8" transform="rotate(45 135.6 304.9)"/>
<rect x="148.0" y="302.7" width="4.2" height="4.2" fill="#3552a8" transform="rotate(45 150.1 304.8)"/>
<rect x="164.3" y="302.6" width="4.2" height="4.2" fill="#3552a8" transform="rotate(45 166.4 304.7)"/>
<rect x="180.8" y="302.4" width="4.2" height="4.2" fill="#3552a8" transform="rotate(45 182.9 304.5)"/>
<rect x="196.9" y="302.1" width="4.2" height="4.2" fill="#3552a8" transform="rotate(45 199.0 304.2)"/>
<rect x="213.3" y="298.8" width="4.2" height="4.2" fill="#3552a8" transform="rotate(45 215.4 300.9)"/>
<text x="82.1" y="343.0" font-size="10.6" font-weight="bold" fill="#111" text-anchor="start" textLength="118.3" lengthAdjust="spacingAndGlyphs" stroke="#111" stroke-width="0.3" >Protein Concentration (ug/ml)</text>
<text transform="translate(34.0,308.3) rotate(-90)" x="0" y="0" font-size="9.2" font-weight="bold" fill="#111" textLength="101.2" lengthAdjust="spacingAndGlyphs" stroke="#111" stroke-width="0.3">hACE2 Receptor Binding</text>
<text transform="translate(44.6,286.3) rotate(-90)" x="0" y="0" font-size="9.0" font-weight="bold" fill="#111" textLength="47.7" lengthAdjust="spacingAndGlyphs" stroke="#111" stroke-width="0.3">(Abs450nm)</text>
<text x="245.0" y="216.9" font-size="11.2" font-weight="bold" fill="#111" text-anchor="start" stroke="#111" stroke-width="0.55" >D.</text>
<line x1="310.0" y1="218.3" x2="310.0" y2="323.4" stroke="#111" stroke-width="1.5" />
<line x1="309.3" y1="320.1" x2="462.6" y2="320.1" stroke="#111" stroke-width="1.5" />
<line x1="307.6" y1="319.6" x2="310.0" y2="319.6" stroke="#111" stroke-width="1.1" />
<line x1="307.6" y1="315.3" x2="310.0" y2="315.3" stroke="#111" stroke-width="1.1" />
<line x1="305.5" y1="310.9" x2="310.0" y2="310.9" stroke="#111" stroke-width="1.1" />
<line x1="307.6" y1="306.5" x2="310.0" y2="306.5" stroke="#111" stroke-width="1.1" />
<line x1="307.6" y1="302.2" x2="310.0" y2="302.2" stroke="#111" stroke-width="1.1" />
<line x1="307.6" y1="297.8" x2="310.0" y2="297.8" stroke="#111" stroke-width="1.1" />
<line x1="307.6" y1="293.4" x2="310.0" y2="293.4" stroke="#111" stroke-width="1.1" />
<line x1="307.6" y1="289.1" x2="310.0" y2="289.1" stroke="#111" stroke-width="1.1" />
<line x1="307.6" y1="284.7" x2="310.0" y2="284.7" stroke="#111" stroke-width="1.1" />
<line x1="307.6" y1="280.3" x2="310.0" y2="280.3" stroke="#111" stroke-width="1.1" />
<line x1="307.6" y1="276.0" x2="310.0" y2="276.0" stroke="#111" stroke-width="1.1" />
<line x1="307.6" y1="271.6" x2="310.0" y2="271.6" stroke="#111" stroke-width="1.1" />
<line x1="305.5" y1="267.2" x2="310.0" y2="267.2" stroke="#111" stroke-width="1.1" />
<line x1="307.6" y1="262.9" x2="310.0" y2="262.9" stroke="#111" stroke-width="1.1" />
<line x1="307.6" y1="258.5" x2="310.0" y2="258.5" stroke="#111" stroke-width="1.1" />
<line x1="307.6" y1="254.2" x2="310.0" y2="254.2" stroke="#111" stroke-width="1.1" />
<line x1="307.6" y1="249.8" x2="310.0" y2="249.8" stroke="#111" stroke-width="1.1" />
<line x1="307.6" y1="245.4" x2="310.0" y2="245.4" stroke="#111" stroke-width="1.1" />
<line x1="307.6" y1="241.1" x2="310.0" y2="241.1" stroke="#111" stroke-width="1.1" />
<line x1="307.6" y1="236.7" x2="310.0" y2="236.7" stroke="#111" stroke-width="1.1" />
<line x1="307.6" y1="232.3" x2="310.0" y2="232.3" stroke="#111" stroke-width="1.1" />
<line x1="307.6" y1="228.0" x2="310.0" y2="228.0" stroke="#111" stroke-width="1.1" />
<line x1="305.5" y1="223.6" x2="310.0" y2="223.6" stroke="#111" stroke-width="1.1" />
<line x1="307.6" y1="219.2" x2="310.0" y2="219.2" stroke="#111" stroke-width="1.1" />
<text x="303.6" y="226.2" font-size="7.2" font-weight="bold" fill="#111" text-anchor="end" stroke="#111" stroke-width="0.15" >1.0</text>
<text x="303.6" y="269.9" font-size="7.2" font-weight="bold" fill="#111" text-anchor="end" stroke="#111" stroke-width="0.15" >0.5</text>
<text x="303.6" y="313.5" font-size="7.2" font-weight="bold" fill="#111" text-anchor="end" stroke="#111" stroke-width="0.15" >0.0</text>
<line x1="310.2" y1="320.1" x2="310.2" y2="324.1" stroke="#111" stroke-width="1.1" />
<line x1="315.8" y1="320.1" x2="315.8" y2="322.5" stroke="#111" stroke-width="1.1" />
<line x1="321.3" y1="320.1" x2="321.3" y2="322.5" stroke="#111" stroke-width="1.1" />
<line x1="326.9" y1="320.1" x2="326.9" y2="322.5" stroke="#111" stroke-width="1.1" />
<line x1="332.5" y1="320.1" x2="332.5" y2="322.5" stroke="#111" stroke-width="1.1" />
<line x1="338.1" y1="320.1" x2="338.1" y2="322.5" stroke="#111" stroke-width="1.1" />
<line x1="343.6" y1="320.1" x2="343.6" y2="322.5" stroke="#111" stroke-width="1.1" />
<line x1="349.2" y1="320.1" x2="349.2" y2="322.5" stroke="#111" stroke-width="1.1" />
<line x1="354.8" y1="320.1" x2="354.8" y2="322.5" stroke="#111" stroke-width="1.1" />
<line x1="360.3" y1="320.1" x2="360.3" y2="322.5" stroke="#111" stroke-width="1.1" />
<line x1="365.9" y1="320.1" x2="365.9" y2="324.1" stroke="#111" stroke-width="1.1" />
<line x1="371.5" y1="320.1" x2="371.5" y2="322.5" stroke="#111" stroke-width="1.1" />
<line x1="377.0" y1="320.1" x2="377.0" y2="322.5" stroke="#111" stroke-width="1.1" />
<line x1="382.6" y1="320.1" x2="382.6" y2="322.5" stroke="#111" stroke-width="1.1" />
<line x1="388.2" y1="320.1" x2="388.2" y2="322.5" stroke="#111" stroke-width="1.1" />
<line x1="393.8" y1="320.1" x2="393.8" y2="322.5" stroke="#111" stroke-width="1.1" />
<line x1="399.3" y1="320.1" x2="399.3" y2="322.5" stroke="#111" stroke-width="1.1" />
<line x1="404.9" y1="320.1" x2="404.9" y2="322.5" stroke="#111" stroke-width="1.1" />
<line x1="410.5" y1="320.1" x2="410.5" y2="322.5" stroke="#111" stroke-width="1.1" />
<line x1="416.0" y1="320.1" x2="416.0" y2="322.5" stroke="#111" stroke-width="1.1" />
<line x1="421.6" y1="320.1" x2="421.6" y2="324.1" stroke="#111" stroke-width="1.1" />
<line x1="427.2" y1="320.1" x2="427.2" y2="322.5" stroke="#111" stroke-width="1.1" />
<line x1="432.7" y1="320.1" x2="432.7" y2="322.5" stroke="#111" stroke-width="1.1" />
<line x1="438.3" y1="320.1" x2="438.3" y2="322.5" stroke="#111" stroke-width="1.1" />
<line x1="443.9" y1="320.1" x2="443.9" y2="322.5" stroke="#111" stroke-width="1.1" />
<line x1="449.4" y1="320.1" x2="449.4" y2="322.5" stroke="#111" stroke-width="1.1" />
<line x1="455.0" y1="320.1" x2="455.0" y2="322.5" stroke="#111" stroke-width="1.1" />
<line x1="460.6" y1="320.1" x2="460.6" y2="322.5" stroke="#111" stroke-width="1.1" />
<text x="309.9" y="332.8" font-size="7.0" font-weight="bold" fill="#111" text-anchor="middle" stroke="#111" stroke-width="0.15" >0</text>
<text x="366.2" y="332.8" font-size="7.0" font-weight="bold" fill="#111" text-anchor="middle" stroke="#111" stroke-width="0.15" >10</text>
<text x="421.9" y="332.8" font-size="7.0" font-weight="bold" fill="#111" text-anchor="middle" stroke="#111" stroke-width="0.15" >20</text>
<text x="348.8" y="345.0" font-size="7.9" font-weight="bold" fill="#111" text-anchor="start" textLength="74.0" lengthAdjust="spacingAndGlyphs" stroke="#111" stroke-width="0.3" >Elution Time (min)</text>
<text transform="translate(289.4,342.0) rotate(-90)" x="0" y="0" font-size="8.4" font-weight="bold" fill="#111" textLength="146.0" lengthAdjust="spacingAndGlyphs" stroke="#111" stroke-width="0.3">Normalized UV Absorbance at 280nm</text>
<text x="331.0" y="242.0" font-size="7.8" font-weight="normal" fill="#111" text-anchor="start" textLength="24.2" lengthAdjust="spacingAndGlyphs" stroke="#111" stroke-width="0.25" >MAPS:</text>
<text x="331.0" y="251.6" font-size="7.8" font-weight="normal" fill="#111" text-anchor="start" textLength="34.6" lengthAdjust="spacingAndGlyphs" stroke="#111" stroke-width="0.25" >4256 kDa</text>
<text x="331.0" y="282.1" font-size="7.8" fill="#e02020" stroke="#e02020" stroke-width="0.25" textLength="27.2" lengthAdjust="spacingAndGlyphs">PnSP1<tspan fill="#111" stroke="#111">:</tspan></text>
<text x="331.0" y="291.9" font-size="7.8" font-weight="normal" fill="#111" text-anchor="start" textLength="30.0" lengthAdjust="spacingAndGlyphs" stroke="#111" stroke-width="0.25" >768 kDa</text>
<text x="431.3" y="241.6" font-size="7.8" fill="#5b2a8e" stroke="#5b2a8e" stroke-width="0.25" textLength="29.5" lengthAdjust="spacingAndGlyphs">Protein<tspan fill="#111" stroke="#111">:</tspan></text>
<text x="431.3" y="251.7" font-size="7.8" font-weight="normal" fill="#111" text-anchor="start" textLength="32.8" lengthAdjust="spacingAndGlyphs" stroke="#111" stroke-width="0.25" >79.1 kDa</text>
<polyline points="310.2,310.6 310.5,310.6 310.8,310.6 311.0,310.6 311.3,310.6 311.6,310.6 311.9,310.6 312.1,310.6 312.4,310.6 312.7,310.6 313.0,310.6 313.3,310.6 313.5,310.6 313.8,310.6 314.1,310.6 314.4,310.6 314.7,310.6 314.9,310.6 315.2,310.6 315.5,310.6 315.8,310.6 316.0,310.6 316.3,310.6 316.6,310.6 316.9,310.6 317.2,310.6 317.4,310.6 317.7,310.6 318.0,310.6 318.3,310.6 318.6,310.6 318.8,310.6 319.1,310.6 319.4,310.6 319.7,310.6 319.9,310.6 320.2,310.6 320.5,310.6 320.8,310.6 321.1,310.6 321.3,310.6 321.6,310.6 321.9,310.6 322.2,310.6 322.5,310.6 322.7,310.6 323.0,310.6 323.3,310.6 323.6,310.6 323.8,310.6 324.1,310.6 324.4,310.6 324.7,310.6 325.0,310.6 325.2,310.6 325.5,310.6 325.8,310.6 326.1,310.6 326.4,310.6 326.6,310.6 326.9,310.6 327.2,310.6 327.5,310.6 327.7,310.6 328.0,310.6 328.3,310.6 328.6,310.6 328.9,310.6 329.1,310.6 329.4,310.6 329.7,310.6 330.0,310.6 330.3,310.6 330.5,310.6 330.8,310.6 331.1,310.6 331.4,310.6 331.6,310.6 331.9,310.6 332.2,310.6 332.5,310.6 332.8,310.6 333.0,310.6 333.3,310.6 333.6,310.6 333.9,310.6 334.2,310.6 334.4,310.6 334.7,310.6 335.0,310.6 335.3,310.6 335.5,310.6 335.8,310.6 336.1,310.6 336.4,310.6 336.7,310.6 336.9,310.6 337.2,310.6 337.5,310.6 337.8,310.6 338.0,310.6 338.3,310.6 338.6,310.6 338.9,310.6 339.2,310.6 339.4,310.6 339.7,310.6 340.0,310.6 340.3,310.6 340.6,310.6 340.8,310.6 341.1,310.6 341.4,310.6 341.7,310.6 341.9,310.6 342.2,310.6 342.5,310.6 342.8,310.6 343.1,310.6 343.3,310.6 343.6,310.6 343.9,310.6 344.2,310.6 344.5,310.6 344.7,310.6 345.0,310.6 345.3,310.6 345.6,310.6 345.8,310.6 346.1,310.6 346.4,310.6 346.7,310.6 347.0,310.6 347.2,310.6 347.5,310.6 347.8,310.6 348.1,310.6 348.4,310.6 348.6,310.6 348.9,310.6 349.2,310.6 349.5,310.6 349.7,310.6 350.0,310.6 350.3,310.6 350.6,310.6 350.9,310.6 351.1,310.6 351.4,310.6 351.7,310.6 352.0,310.6 352.3,310.6 352.5,310.6 352.8,310.6 353.1,310.6 353.4,310.6 353.6,310.6 353.9,310.6 354.2,310.6 354.5,310.6 354.8,310.6 355.0,310.6 355.3,310.6 355.6,310.6 355.9,310.6 356.2,310.6 356.4,310.6 356.7,310.6 357.0,310.6 357.3,310.6 357.5,310.6 357.8,310.6 358.1,310.6 358.4,310.6 358.7,310.6 358.9,310.6 359.2,310.6 359.5,310.6 359.8,310.6 360.1,310.6 360.3,310.6 360.6,310.6 360.9,310.6 361.2,310.6 361.4,310.6 361.7,310.6 362.0,310.6 362.3,310.6 362.6,310.6 362.8,310.6 363.1,310.6 363.4,310.6 363.7,310.6 364.0,310.6 364.2,310.6 364.5,310.6 364.8,310.6 365.1,310.6 365.3,310.6 365.6,310.6 365.9,310.5 366.2,310.5 366.5,310.5 366.7,310.5 367.0,310.5 367.3,310.5 367.6,310.5 367.8,310.5 368.1,310.5 368.4,310.5 368.7,310.5 369.0,310.5 369.2,310.5 369.5,310.4 369.8,310.4 370.1,310.3 370.4,310.2 370.6,310.1 370.9,310.0 371.2,309.8 371.5,309.6 371.7,309.4 372.0,309.0 372.3,308.6 372.6,308.1 372.9,307.5 373.1,306.7 373.4,305.8 373.7,304.7 374.0,303.5 374.3,302.0 374.5,300.3 374.8,298.3 375.1,296.1 375.4,293.6 375.6,290.8 375.9,287.7 376.2,284.4 376.5,280.7 376.8,276.8 377.0,272.7 377.3,268.4 377.6,264.0 377.9,259.4 378.2,254.9 378.4,250.3 378.7,245.9 379.0,241.7 379.3,237.8 379.5,234.2 379.8,231.0 380.1,228.2 380.4,226.1 380.7,224.5 380.9,223.5 381.2,223.2 381.5,223.3 381.8,223.9 382.1,225.0 382.3,226.4 382.6,228.1 382.9,230.2 383.2,232.7 383.4,235.4 383.7,238.3 384.0,241.5 384.3,244.8 384.6,248.2 384.8,251.8 385.1,255.3 385.4,258.9 385.7,262.5 386.0,266.0 386.2,269.4 386.5,272.8 386.8,276.0 387.1,279.0 387.3,281.9 387.6,284.6 387.9,287.2 388.2,289.6 388.5,291.8 388.7,293.8 389.0,295.6 389.3,297.3 389.6,298.8 389.9,300.2 390.1,301.5 390.4,302.6 390.7,303.6 391.0,304.5 391.2,305.2 391.5,305.9 391.8,306.5 392.1,307.1 392.4,307.6 392.6,308.0 392.9,308.3 393.2,308.7 393.5,308.9 393.8,309.2 394.0,309.4 394.3,309.6 394.6,309.7 394.9,309.8 395.1,310.0 395.4,310.1 395.7,310.1 396.0,310.2 396.3,310.3 396.5,310.3 396.8,310.4 397.1,310.4 397.4,310.4 397.6,310.5 397.9,310.5 398.2,310.5 398.5,310.5 398.8,310.5 399.0,310.5 399.3,310.5 399.6,310.5 399.9,310.5 400.2,310.5 400.4,310.5 400.7,310.5 401.0,310.5 401.3,310.5 401.5,310.5 401.8,310.5 402.1,310.5 402.4,310.5 402.7,310.6 402.9,310.6 403.2,310.6 403.5,310.6 403.8,310.6 404.1,310.6 404.3,310.6 404.6,310.6 404.9,310.6 405.2,310.6 405.4,310.6 405.7,310.6 406.0,310.6 406.3,310.6 406.6,310.6 406.8,310.6 407.1,310.6 407.4,310.6 407.7,310.6 408.0,310.6 408.2,310.6 408.5,310.6 408.8,310.6 409.1,310.6 409.3,310.6 409.6,310.6 409.9,310.6 410.2,310.6 410.5,310.6 410.7,310.6 411.0,310.6 411.3,310.6 411.6,310.6 411.9,310.6 412.1,310.6 412.4,310.6 412.7,310.6 413.0,310.6 413.2,310.6 413.5,310.6 413.8,310.6 414.1,310.6 414.4,310.6 414.6,310.6 414.9,310.6 415.2,310.6 415.5,310.6 415.8,310.6 416.0,310.6 416.3,310.6 416.6,310.5 416.9,310.5 417.1,310.5 417.4,310.5 417.7,310.5 418.0,310.5 418.3,310.5 418.5,310.5 418.8,310.5 419.1,310.5 419.4,310.5 419.7,310.5 419.9,310.5 420.2,310.5 420.5,310.5 420.8,310.5 421.0,310.4 421.3,310.4 421.6,310.4 421.9,310.3 422.2,310.3 422.4,310.2 422.7,310.2 423.0,310.1 423.3,310.1 423.5,310.0 423.8,309.9 424.1,309.8 424.4,309.8 424.7,309.7 424.9,309.6 425.2,309.5 425.5,309.5 425.8,309.4 426.1,309.3 426.3,309.3 426.6,309.3 426.9,309.2 427.2,309.2 427.4,309.2 427.7,309.3 428.0,309.3 428.3,309.3 428.6,309.4 428.8,309.5 429.1,309.5 429.4,309.6 429.7,309.7 430.0,309.8 430.2,309.8 430.5,309.9 430.8,310.0 431.1,310.1 431.3,310.1 431.6,310.2 431.9,310.2 432.2,310.3 432.5,310.3 432.7,310.4 433.0,310.4 433.3,310.4 433.6,310.5 433.9,310.5 434.1,310.5 434.4,310.5 434.7,310.5 435.0,310.5 435.2,310.5 435.5,310.5 435.8,310.5 436.1,310.5 436.4,310.5 436.6,310.5 436.9,310.5 437.2,310.5 437.5,310.5 437.8,310.5 438.0,310.6 438.3,310.6 438.6,310.6 438.9,310.6 439.1,310.6 439.4,310.6 439.7,310.6 440.0,310.6 440.3,310.6 440.5,310.6 440.8,310.6 441.1,310.6 441.4,310.6 441.7,310.6 441.9,310.6 442.2,310.6 442.5,310.6 442.8,310.6 443.0,310.6 443.3,310.6 443.6,310.6 443.9,310.6 444.2,310.6 444.4,310.6 444.7,310.6 445.0,310.6 445.3,310.6 445.6,310.6 445.8,310.6 446.1,310.6 446.4,310.6 446.7,310.6 446.9,310.6 447.2,310.6 447.5,310.6 447.8,310.6 448.1,310.6 448.3,310.6 448.6,310.6 448.9,310.6 449.2,310.6 449.5,310.6 449.7,310.6 450.0,310.6 450.3,310.6 450.6,310.6 450.8,310.6 451.1,310.6 451.4,310.6 451.7,310.6 452.0,310.6 452.2,310.6 452.5,310.6 452.8,310.6 453.1,310.6 453.3,310.6 453.6,310.6 453.9,310.6 454.2,310.6 454.5,310.6 454.7,310.6 455.0,310.6 455.3,310.6 455.6,310.6 455.9,310.6 456.1,310.6 456.4,310.6 456.7,310.6 457.0,310.6 457.2,310.6 457.5,310.6 457.8,310.6 458.1,310.6 458.4,310.6 458.6,310.6 458.9,310.6 459.2,310.6 459.5,310.6 459.8,310.6 460.0,310.6 460.3,310.6" fill="none" stroke="#111" stroke-width="1.4" stroke-linejoin="round" />
<polyline points="310.2,310.9 310.5,310.6 310.8,310.6 311.0,310.3 311.3,310.1 311.6,310.4 311.9,310.2 312.1,309.2 312.4,309.4 312.7,309.1 313.0,308.1 313.3,308.2 313.5,307.5 313.8,307.4 314.1,306.9 314.4,307.0 314.7,306.3 314.9,305.9 315.2,306.1 315.5,305.9 315.8,306.0 316.0,306.6 316.3,306.2 316.6,306.6 316.9,307.2 317.2,307.8 317.4,307.4 317.7,308.2 318.0,308.3 318.3,308.5 318.6,309.0 318.8,309.1 319.1,309.9 319.4,309.7 319.7,310.2 319.9,310.0 320.2,310.1 320.5,310.9 320.8,310.9 321.1,310.9 321.3,310.2 321.6,310.6 321.9,310.4 322.2,310.6 322.5,310.4 322.7,310.4 323.0,310.3 323.3,309.9 323.6,309.8 323.8,309.3 324.1,309.4 324.4,309.0 324.7,309.0 325.0,308.8 325.2,309.0 325.5,309.4 325.8,308.9 326.1,308.8 326.4,309.0 326.6,309.4 326.9,309.4 327.2,309.9 327.5,309.6 327.7,309.9 328.0,310.3 328.3,311.7 328.6,311.2 328.9,311.2 329.1,312.1 329.4,311.6 329.7,312.0 330.0,312.3 330.3,312.2 330.5,311.9 330.8,311.8 331.1,312.6 331.4,312.1 331.6,312.7 331.9,312.1 332.2,312.5 332.5,312.0 332.8,312.0 333.0,312.4 333.3,312.0 333.6,312.6 333.9,312.9 334.2,312.4 334.4,313.0 334.7,312.8 335.0,312.7 335.3,312.5 335.5,313.0 335.8,313.1 336.1,312.4 336.4,312.9 336.7,312.4 336.9,312.4 337.2,312.9 337.5,312.9 337.8,312.8 338.0,312.8 338.3,312.8 338.6,312.9 338.9,312.9 339.2,312.6 339.4,313.0 339.7,313.1 340.0,312.8 340.3,313.2 340.6,313.2 340.8,312.6 341.1,313.0 341.4,313.0 341.7,313.4 341.9,313.1 342.2,312.9 342.5,313.4 342.8,312.9 343.1,312.9 343.3,313.4 343.6,312.9 343.9,313.0 344.2,312.8 344.5,313.1 344.7,312.8 345.0,312.8 345.3,313.4 345.6,313.4 345.8,312.8 346.1,312.6 346.4,313.2 346.7,313.0 347.0,312.9 347.2,313.2 347.5,313.1 347.8,313.2 348.1,313.1 348.4,312.9 348.6,313.2 348.9,313.1 349.2,312.8 349.5,313.4 349.7,312.9 350.0,312.8 350.3,313.2 350.6,313.2 350.9,312.7 351.1,313.2 351.4,313.3 351.7,313.1 352.0,312.8 352.3,313.3 352.5,313.2 352.8,313.1 353.1,312.7 353.4,313.0 353.6,312.7 353.9,313.3 354.2,313.1 354.5,312.9 354.8,312.7 355.0,313.0 355.3,313.2 355.6,313.3 355.9,313.0 356.2,313.3 356.4,312.7 356.7,312.7 357.0,313.3 357.3,313.2 357.5,312.7 357.8,312.9 358.1,312.7 358.4,313.1 358.7,313.3 358.9,313.2 359.2,312.7 359.5,313.2 359.8,313.1 360.1,313.1 360.3,313.1 360.6,313.1 360.9,312.6 361.2,313.3 361.4,313.4 361.7,312.6 362.0,312.7 362.3,312.6 362.6,313.1 362.8,312.6 363.1,312.6 363.4,313.2 363.7,312.8 364.0,312.7 364.2,312.9 364.5,313.0 364.8,313.2 365.1,313.1 365.3,313.2 365.6,313.4 365.9,312.9 366.2,313.2 366.5,312.7 366.7,313.4 367.0,312.6 367.3,312.8 367.6,312.6 367.8,312.6 368.1,312.6 368.4,312.9 368.7,313.4 369.0,312.8 369.2,313.3 369.5,313.2 369.8,312.8 370.1,313.0 370.4,313.0 370.6,312.6 370.9,312.8 371.2,313.1 371.5,313.1 371.7,312.5 372.0,312.8 372.3,312.4 372.6,312.7 372.9,312.7 373.1,312.2 373.4,311.7 373.7,311.9 374.0,311.0 374.3,310.3 374.5,309.8 374.8,309.0 375.1,308.7 375.4,307.0 375.6,305.4 375.9,304.4 376.2,302.2 376.5,300.0 376.8,297.2 377.0,294.3 377.3,291.0 377.6,287.1 377.9,283.9 378.2,279.6 378.4,275.0 378.7,270.3 379.0,265.4 379.3,259.6 379.5,254.8 379.8,250.5 380.1,245.5 380.4,241.2 380.7,237.2 380.9,233.7 381.2,230.5 381.5,228.2 381.8,226.8 382.1,226.1 382.3,225.9 382.6,227.2 382.9,229.0 383.2,232.1 383.4,236.5 383.7,241.7 384.0,247.1 384.3,252.8 384.6,258.7 384.8,264.7 385.1,271.1 385.4,276.5 385.7,282.0 386.0,287.1 386.2,291.6 386.5,295.4 386.8,298.6 387.1,301.8 387.3,304.0 387.6,306.2 387.9,308.0 388.2,309.9 388.5,310.8 388.7,312.1 389.0,312.4 389.3,312.8 389.6,312.8 389.9,312.9 390.1,313.6 390.4,313.3 390.7,313.4 391.0,314.0 391.2,313.8 391.5,314.2 391.8,313.6 392.1,313.7 392.4,313.5 392.6,313.6 392.9,313.7 393.2,313.7 393.5,313.8 393.8,314.2 394.0,313.8 394.3,314.3 394.6,314.2 394.9,313.6 395.1,314.3 395.4,314.2 395.7,314.2 396.0,313.5 396.3,314.1 396.5,314.3 396.8,313.6 397.1,314.2 397.4,313.6 397.6,313.7 397.9,313.6 398.2,313.5 398.5,313.8 398.8,313.6 399.0,314.3 399.3,313.6 399.6,313.9 399.9,313.7 400.2,314.2 400.4,313.7 400.7,313.5 401.0,314.3 401.3,314.0 401.5,313.8 401.8,313.6 402.1,314.1 402.4,314.1 402.7,314.1 402.9,313.8 403.2,313.6 403.5,314.0 403.8,314.0 404.1,314.0 404.3,314.0 404.6,313.9 404.9,314.2 405.2,313.9 405.4,313.5 405.7,313.9 406.0,313.7 406.3,314.2 406.6,313.7 406.8,313.6 407.1,313.7 407.4,313.9 407.7,313.9 408.0,313.7 408.2,313.5 408.5,314.2 408.8,314.2 409.1,313.7 409.3,313.5 409.6,313.9 409.9,313.9 410.2,313.7 410.5,314.1 410.7,314.1 411.0,314.1 411.3,313.8 411.6,314.0 411.9,314.1 412.1,313.7 412.4,313.5 412.7,314.0 413.0,313.7 413.2,313.9 413.5,313.6 413.8,313.8 414.1,314.1 414.4,314.1 414.6,314.3 414.9,313.9 415.2,314.0 415.5,314.2 415.8,314.0 416.0,314.0 416.3,313.6 416.6,314.2 416.9,313.4 417.1,313.9 417.4,313.8 417.7,313.9 418.0,313.6 418.3,313.6 418.5,313.8 418.8,313.9 419.1,313.7 419.4,313.6 419.7,314.0 419.9,313.7 420.2,313.5 420.5,313.9 420.8,314.1 421.0,314.1 421.3,313.7 421.6,313.7 421.9,313.5 422.2,313.6 422.4,314.1 422.7,314.1 423.0,314.1 423.3,314.1 423.5,313.7 423.8,313.6 424.1,313.5 424.4,314.1 424.7,313.5 424.9,314.0 425.2,313.9 425.5,313.7 425.8,314.2 426.1,314.2 426.3,313.6 426.6,314.0 426.9,314.0 427.2,313.8 427.4,313.7 427.7,314.3 428.0,314.0 428.3,313.9 428.6,313.9 428.8,314.1 429.1,313.8 429.4,313.5 429.7,314.0 430.0,313.8 430.2,314.2 430.5,314.1 430.8,313.7 431.1,314.2 431.3,313.5 431.6,313.5 431.9,314.2 432.2,313.5 432.5,314.0 432.7,313.6 433.0,313.6 433.3,314.0 433.6,313.7 433.9,313.7 434.1,313.6 434.4,314.1 434.7,313.6 435.0,313.5 435.2,313.7 435.5,313.8 435.8,314.2 436.1,313.9 436.4,314.0 436.6,313.7 436.9,313.7 437.2,313.8 437.5,314.1 437.8,313.7 438.0,313.8 438.3,314.1 438.6,313.5 438.9,313.7 439.1,314.2 439.4,313.5 439.7,314.2 440.0,314.0 440.3,313.7 440.5,313.8 440.8,313.8 441.1,313.7 441.4,313.9 441.7,314.0 441.9,314.2 442.2,314.2 442.5,313.7 442.8,313.6 443.0,313.8 443.3,313.7 443.6,314.0 443.9,314.1 444.2,314.0 444.4,313.5 444.7,314.3 445.0,313.9 445.3,314.1 445.6,313.6 445.8,314.0 446.1,314.0 446.4,314.0 446.7,313.8 446.9,313.6 447.2,314.0 447.5,313.6 447.8,314.2 448.1,314.1 448.3,314.2 448.6,314.2 448.9,313.6 449.2,313.7 449.5,314.1 449.7,314.1 450.0,313.9 450.3,313.7 450.6,313.6 450.8,313.7 451.1,313.8 451.4,314.2 451.7,314.0 452.0,314.1 452.2,313.8 452.5,313.8 452.8,314.1 453.1,314.1 453.3,313.6 453.6,314.3 453.9,313.6 454.2,313.5 454.5,313.5 454.7,313.9 455.0,313.8 455.3,313.7 455.6,313.6 455.9,313.2 456.1,313.3 456.4,313.4 456.7,312.7 457.0,312.7 457.2,312.3 457.5,311.8 457.8,312.1 458.1,311.1 458.4,310.9 458.6,310.9 458.9,310.8 459.2,310.9 459.5,311.3 459.8,311.3 460.0,312.1 460.3,312.0" fill="none" stroke="#e51c1c" stroke-width="1.7" stroke-linejoin="round" />
<polyline points="310.2,310.9 310.5,310.9 310.8,310.9 311.0,310.9 311.3,310.9 311.6,310.9 311.9,310.9 312.1,310.9 312.4,310.9 312.7,310.9 313.0,310.9 313.3,310.9 313.5,310.9 313.8,310.9 314.1,310.9 314.4,310.9 314.7,310.9 314.9,310.9 315.2,310.9 315.5,310.9 315.8,310.9 316.0,310.9 316.3,310.9 316.6,310.9 316.9,310.9 317.2,310.9 317.4,310.9 317.7,310.9 318.0,310.9 318.3,310.9 318.6,310.9 318.8,310.9 319.1,310.9 319.4,310.9 319.7,310.9 319.9,310.9 320.2,310.9 320.5,310.9 320.8,310.9 321.1,310.9 321.3,310.9 321.6,310.9 321.9,310.9 322.2,310.9 322.5,310.9 322.7,310.9 323.0,310.9 323.3,310.9 323.6,310.9 323.8,310.9 324.1,310.9 324.4,310.9 324.7,310.9 325.0,310.9 325.2,310.9 325.5,310.9 325.8,310.9 326.1,310.9 326.4,310.9 326.6,310.9 326.9,310.9 327.2,310.9 327.5,310.9 327.7,310.9 328.0,310.9 328.3,310.9 328.6,310.9 328.9,310.9 329.1,310.9 329.4,310.9 329.7,310.9 330.0,310.9 330.3,310.9 330.5,310.9 330.8,310.9 331.1,310.9 331.4,310.9 331.6,310.9 331.9,310.9 332.2,310.9 332.5,310.9 332.8,310.9 333.0,310.9 333.3,310.9 333.6,310.9 333.9,310.9 334.2,310.9 334.4,310.9 334.7,310.9 335.0,310.9 335.3,310.9 335.5,310.9 335.8,310.9 336.1,310.9 336.4,310.9 336.7,310.9 336.9,310.9 337.2,310.9 337.5,310.9 337.8,310.9 338.0,310.9 338.3,310.9 338.6,310.9 338.9,310.9 339.2,310.9 339.4,310.9 339.7,310.9 340.0,310.9 340.3,310.9 340.6,310.9 340.8,310.9 341.1,310.9 341.4,310.9 341.7,310.9 341.9,310.9 342.2,310.9 342.5,310.9 342.8,310.9 343.1,310.9 343.3,310.9 343.6,310.9 343.9,310.9 344.2,310.9 344.5,310.9 344.7,310.9 345.0,310.9 345.3,310.9 345.6,310.9 345.8,310.9 346.1,310.9 346.4,310.9 346.7,310.9 347.0,310.9 347.2,310.9 347.5,310.9 347.8,310.9 348.1,310.9 348.4,310.9 348.6,310.9 348.9,310.9 349.2,310.9 349.5,310.9 349.7,310.9 350.0,310.9 350.3,310.9 350.6,310.9 350.9,310.9 351.1,310.9 351.4,310.9 351.7,310.9 352.0,310.9 352.3,310.9 352.5,310.9 352.8,310.9 353.1,310.9 353.4,310.9 353.6,310.9 353.9,310.9 354.2,310.9 354.5,310.9 354.8,310.9 355.0,310.9 355.3,310.9 355.6,310.9 355.9,310.9 356.2,310.9 356.4,310.9 356.7,310.9 357.0,310.9 357.3,310.9 357.5,310.9 357.8,310.9 358.1,310.9 358.4,310.9 358.7,310.9 358.9,310.9 359.2,310.9 359.5,310.9 359.8,310.9 360.1,310.9 360.3,310.9 360.6,310.9 360.9,310.9 361.2,310.9 361.4,310.9 361.7,310.9 362.0,310.9 362.3,310.9 362.6,310.9 362.8,310.9 363.1,310.9 363.4,310.9 363.7,310.9 364.0,310.9 364.2,310.9 364.5,310.9 364.8,310.9 365.1,310.9 365.3,310.9 365.6,310.9 365.9,310.9 366.2,310.9 366.5,310.9 366.7,310.9 367.0,310.9 367.3,310.9 367.6,310.9 367.8,310.9 368.1,310.9 368.4,310.9 368.7,310.9 369.0,310.9 369.2,310.9 369.5,310.9 369.8,310.9 370.1,310.9 370.4,310.9 370.6,310.9 370.9,310.9 371.2,310.9 371.5,310.9 371.7,310.9 372.0,310.9 372.3,310.9 372.6,310.9 372.9,310.9 373.1,310.9 373.4,310.9 373.7,310.9 374.0,310.9 374.3,310.9 374.5,310.9 374.8,310.9 375.1,310.9 375.4,310.9 375.6,310.9 375.9,310.9 376.2,310.9 376.5,310.9 376.8,310.9 377.0,310.9 377.3,310.9 377.6,310.9 377.9,310.9 378.2,310.9 378.4,310.9 378.7,310.9 379.0,310.9 379.3,310.9 379.5,310.9 379.8,310.9 380.1,310.9 380.4,310.9 380.7,310.9 380.9,310.9 381.2,310.9 381.5,310.9 381.8,310.9 382.1,310.9 382.3,310.9 382.6,310.9 382.9,310.9 383.2,310.9 383.4,310.9 383.7,310.9 384.0,310.9 384.3,310.9 384.6,310.9 384.8,310.9 385.1,310.9 385.4,310.9 385.7,310.9 386.0,310.9 386.2,310.9 386.5,310.9 386.8,310.9 387.1,310.9 387.3,310.9 387.6,310.9 387.9,310.9 388.2,310.9 388.5,310.9 388.7,310.9 389.0,310.9 389.3,310.9 389.6,310.9 389.9,310.9 390.1,310.9 390.4,310.9 390.7,310.9 391.0,310.9 391.2,310.9 391.5,310.9 391.8,310.9 392.1,310.9 392.4,310.9 392.6,310.9 392.9,310.9 393.2,310.9 393.5,310.9 393.8,310.9 394.0,310.9 394.3,310.9 394.6,310.9 394.9,310.9 395.1,310.9 395.4,310.9 395.7,310.9 396.0,310.9 396.3,310.9 396.5,310.9 396.8,310.9 397.1,310.9 397.4,310.9 397.6,310.9 397.9,310.9 398.2,310.9 398.5,310.9 398.8,310.9 399.0,310.9 399.3,310.9 399.6,310.9 399.9,310.9 400.2,310.9 400.4,310.9 400.7,310.9 401.0,310.9 401.3,310.9 401.5,310.9 401.8,310.9 402.1,310.9 402.4,310.9 402.7,310.9 402.9,310.9 403.2,310.9 403.5,310.9 403.8,310.9 404.1,310.9 404.3,310.9 404.6,310.9 404.9,310.9 405.2,310.9 405.4,310.9 405.7,310.9 406.0,310.9 406.3,310.9 406.6,310.9 406.8,310.9 407.1,310.9 407.4,310.9 407.7,310.9 408.0,310.9 408.2,310.8 408.5,310.8 408.8,310.8 409.1,310.7 409.3,310.7 409.6,310.6 409.9,310.5 410.2,310.4 410.5,310.3 410.7,310.2 411.0,310.1 411.3,309.9 411.6,309.8 411.9,309.7 412.1,309.6 412.4,309.5 412.7,309.4 413.0,309.3 413.2,309.3 413.5,309.3 413.8,309.4 414.1,309.5 414.4,309.6 414.6,309.7 414.9,309.8 415.2,309.9 415.5,310.1 415.8,310.2 416.0,310.3 416.3,310.4 416.6,310.5 416.9,310.6 417.1,310.6 417.4,310.6 417.7,310.6 418.0,310.6 418.3,310.6 418.5,310.5 418.8,310.4 419.1,310.3 419.4,310.1 419.7,309.9 419.9,309.6 420.2,309.2 420.5,308.8 420.8,308.2 421.0,307.5 421.3,306.6 421.6,305.5 421.9,304.1 422.2,302.4 422.4,300.4 422.7,297.8 423.0,294.8 423.3,291.2 423.5,287.1 423.8,282.3 424.1,277.0 424.4,271.2 424.7,264.9 424.9,258.5 425.2,251.9 425.5,245.5 425.8,239.5 426.1,234.2 426.3,229.7 426.6,226.4 426.9,224.4 427.2,223.7 427.4,224.5 427.7,226.5 428.0,229.6 428.3,233.7 428.6,238.6 428.8,243.9 429.1,249.5 429.4,255.2 429.7,260.7 430.0,266.0 430.2,270.9 430.5,275.3 430.8,279.2 431.1,282.6 431.3,285.5 431.6,288.0 431.9,290.1 432.2,291.9 432.5,293.5 432.7,294.8 433.0,296.0 433.3,297.1 433.6,298.0 433.9,298.9 434.1,299.8 434.4,300.5 434.7,301.3 435.0,302.0 435.2,302.6 435.5,303.3 435.8,303.9 436.1,304.4 436.4,305.0 436.6,305.5 436.9,306.0 437.2,306.4 437.5,306.8 437.8,307.2 438.0,307.6 438.3,307.9 438.6,308.2 438.9,308.5 439.1,308.8 439.4,309.0 439.7,309.2 440.0,309.4 440.3,309.6 440.5,309.8 440.8,309.9 441.1,310.0 441.4,310.1 441.7,310.2 441.9,310.3 442.2,310.4 442.5,310.5 442.8,310.5 443.0,310.6 443.3,310.6 443.6,310.7 443.9,310.7 444.2,310.7 444.4,310.8 444.7,310.8 445.0,310.8 445.3,310.8 445.6,310.8 445.8,310.8 446.1,310.9 446.4,310.9 446.7,310.9 446.9,310.9 447.2,310.9 447.5,310.9 447.8,310.9 448.1,310.9 448.3,310.9 448.6,310.9 448.9,310.9 449.2,310.9 449.5,310.9 449.7,310.9 450.0,310.9 450.3,310.9 450.6,310.9 450.8,310.9 451.1,310.9 451.4,310.9 451.7,310.9 452.0,310.9 452.2,310.9 452.5,310.9 452.8,310.9 453.1,310.9 453.3,310.9 453.6,310.9 453.9,310.9 454.2,310.9 454.5,310.9 454.7,310.9 455.0,310.9 455.3,310.9 455.6,310.9 455.9,310.9 456.1,310.9 456.4,310.9 456.7,310.9 457.0,310.9 457.2,310.9 457.5,310.9 457.8,310.9 458.1,310.9 458.4,310.9 458.6,310.9 458.9,310.9 459.2,310.9 459.5,310.9 459.8,310.9 460.0,310.9 460.3,310.9" fill="none" stroke="#5b2a8e" stroke-width="1.6" stroke-linejoin="round" />
<text x="13.8" y="365.1" font-size="11.2" font-weight="bold" fill="#111" text-anchor="start" stroke="#111" stroke-width="0.55" >E.</text>
<line x1="63.4" y1="367.8" x2="63.4" y2="483.5" stroke="#111" stroke-width="1.5" />
<line x1="62.8" y1="478.6" x2="230.2" y2="478.6" stroke="#111" stroke-width="1.5" />
<line x1="59.0" y1="478.4" x2="63.4" y2="478.4" stroke="#111" stroke-width="1.1" />
<line x1="61.0" y1="472.9" x2="63.4" y2="472.9" stroke="#111" stroke-width="1.1" />
<line x1="61.0" y1="467.4" x2="63.4" y2="467.4" stroke="#111" stroke-width="1.1" />
<line x1="61.0" y1="461.9" x2="63.4" y2="461.9" stroke="#111" stroke-width="1.1" />
<line x1="61.0" y1="456.4" x2="63.4" y2="456.4" stroke="#111" stroke-width="1.1" />
<line x1="61.0" y1="450.9" x2="63.4" y2="450.9" stroke="#111" stroke-width="1.1" />
<line x1="61.0" y1="445.4" x2="63.4" y2="445.4" stroke="#111" stroke-width="1.1" />
<line x1="61.0" y1="439.9" x2="63.4" y2="439.9" stroke="#111" stroke-width="1.1" />
<line x1="61.0" y1="434.4" x2="63.4" y2="434.4" stroke="#111" stroke-width="1.1" />
<line x1="61.0" y1="428.9" x2="63.4" y2="428.9" stroke="#111" stroke-width="1.1" />
<line x1="59.0" y1="423.4" x2="63.4" y2="423.4" stroke="#111" stroke-width="1.1" />
<line x1="61.0" y1="417.9" x2="63.4" y2="417.9" stroke="#111" stroke-width="1.1" />
<line x1="61.0" y1="412.4" x2="63.4" y2="412.4" stroke="#111" stroke-width="1.1" />
<line x1="61.0" y1="406.9" x2="63.4" y2="406.9" stroke="#111" stroke-width="1.1" />
<line x1="61.0" y1="401.4" x2="63.4" y2="401.4" stroke="#111" stroke-width="1.1" />
<line x1="61.0" y1="395.9" x2="63.4" y2="395.9" stroke="#111" stroke-width="1.1" />
<line x1="61.0" y1="390.4" x2="63.4" y2="390.4" stroke="#111" stroke-width="1.1" />
<line x1="61.0" y1="384.9" x2="63.4" y2="384.9" stroke="#111" stroke-width="1.1" />
<line x1="61.0" y1="379.4" x2="63.4" y2="379.4" stroke="#111" stroke-width="1.1" />
<line x1="61.0" y1="373.9" x2="63.4" y2="373.9" stroke="#111" stroke-width="1.1" />
<line x1="59.0" y1="368.4" x2="63.4" y2="368.4" stroke="#111" stroke-width="1.1" />
<text x="58.0" y="371.0" font-size="7.6" font-weight="bold" fill="#111" text-anchor="end" textLength="12.8" lengthAdjust="spacingAndGlyphs" stroke="#111" stroke-width="0.3" >100</text>
<text x="58.0" y="426.0" font-size="7.6" font-weight="bold" fill="#111" text-anchor="end" textLength="8.2" lengthAdjust="spacingAndGlyphs" stroke="#111" stroke-width="0.3" >50</text>
<text x="58.0" y="481.0" font-size="7.6" font-weight="bold" fill="#111" text-anchor="end" textLength="4.0" lengthAdjust="spacingAndGlyphs" stroke="#111" stroke-width="0.3" >0</text>
<line x1="63.8" y1="478.6" x2="63.8" y2="482.8" stroke="#111" stroke-width="1.2" />
<text x="58.0" y="492.4" font-size="6.8" font-weight="bold" fill="#111" stroke="#111" stroke-width="0.25">10<tspan dy="-2.6" font-size="5.0" stroke-width="0.1">4</tspan></text>
<line x1="106.8" y1="478.6" x2="106.8" y2="482.8" stroke="#111" stroke-width="1.2" />
<text x="101.0" y="492.4" font-size="6.8" font-weight="bold" fill="#111" stroke="#111" stroke-width="0.25">10<tspan dy="-2.6" font-size="5.0" stroke-width="0.1">5</tspan></text>
<line x1="149.8" y1="478.6" x2="149.8" y2="482.8" stroke="#111" stroke-width="1.2" />
<text x="144.0" y="492.4" font-size="6.8" font-weight="bold" fill="#111" stroke="#111" stroke-width="0.25">10<tspan dy="-2.6" font-size="5.0" stroke-width="0.1">6</tspan></text>
<line x1="192.8" y1="478.6" x2="192.8" y2="482.8" stroke="#111" stroke-width="1.2" />
<text x="187.0" y="492.4" font-size="6.8" font-weight="bold" fill="#111" stroke="#111" stroke-width="0.25">10<tspan dy="-2.6" font-size="5.0" stroke-width="0.1">7</tspan></text>
<text x="105.3" y="507.9" font-size="9.3" font-weight="bold" fill="#111" text-anchor="start" textLength="83.0" lengthAdjust="spacingAndGlyphs" stroke="#111" stroke-width="0.3" >Molar Mass (g/mol)</text>
<text transform="translate(38.3,479.2) rotate(-90)" x="0" y="0" font-size="8.8" font-weight="bold" fill="#111" textLength="112.1" lengthAdjust="spacingAndGlyphs" stroke="#111" stroke-width="0.3">Normalized Mass Fraction</text>
<polygon points="100.6,478.4 100.6,469.8 101.3,440 101.8,400 102.1,368.4 102.6,400 103.2,460 103.8,478.4" fill="#8d93b8"/>
<polyline points="64.5,478.0 67.0,477.6 69.0,477.0 70.5,476.8 72.0,477.6 74.0,476.6 75.5,477.3 78.0,477.6 82.0,477.4 86.0,477.8 90.0,477.7 94.0,477.8 97.0,477.3 98.2,474.0 99.4,471.2 100.6,469.5 101.3,440.0 101.8,400.0 102.1,368.4 102.6,400.0 103.2,460.0 103.8,475.8 104.8,477.8 106.0,477.5 108.0,478.0" fill="none" stroke="#1b2174" stroke-width="1.2" stroke-linejoin="round" />
<line x1="122.5" y1="368.6" x2="122.5" y2="478.6" stroke="#e41e1e" stroke-width="1.0" />
<polyline points="122.7,431.0 123.4,413.0 124.3,428.0 125.2,441.0 126.1,436.0 127.2,416.0 128.3,404.0 129.5,399.0 130.2,401.0 131.0,409.0 132.0,411.0 133.4,418.0 135.5,425.5 138.0,436.0 140.5,446.0 142.8,456.5 145.0,461.5 147.2,465.0 150.0,468.8 153.0,471.7 157.0,473.8 161.0,475.1 166.0,476.6 172.6,477.7 180.0,478.2 188.7,478.4" fill="none" stroke="#e42626" stroke-width="1.15" stroke-linejoin="round" />
<line x1="152.7" y1="369.0" x2="152.7" y2="478.6" stroke="#111" stroke-width="1.2" />
<polyline points="152.6,369.5 153.0,378.0 153.4,392.0 153.8,400.0 154.2,408.4 154.6,404.0 155.0,418.0 155.3,421.0 155.8,418.0 156.5,428.0 157.6,436.0 158.4,434.0 159.2,441.0 160.5,444.0 162.2,447.5 165.0,452.5 168.0,456.7 171.0,460.5 174.9,464.8 179.0,468.5 184.1,471.7 190.0,474.5 195.6,476.3 203.0,477.5 211.7,478.1 220.0,478.4" fill="none" stroke="#111" stroke-width="1.3" stroke-linejoin="round" />
<text x="253.8" y="365.0" font-size="11.2" font-weight="bold" fill="#111" text-anchor="start" stroke="#111" stroke-width="0.55" >F.</text>
<text transform="translate(336.7,418.5) rotate(-90)" x="0" y="0" font-size="8.0" font-weight="bold" fill="#111" textLength="61.2" lengthAdjust="spacingAndGlyphs" stroke="#111" stroke-width="0.3">S_RBD-Rhizavidin</text>
<text transform="translate(344.1,418.5) rotate(-90)" x="0" y="0" font-size="8.0" font-weight="bold" fill="#111" textLength="23.4" lengthAdjust="spacingAndGlyphs" stroke="#111" stroke-width="0.3">PnPS1</text>
<text transform="translate(352.1,418.5) rotate(-90)" x="0" y="0" font-size="8.0" font-weight="bold" fill="#111" textLength="35.7" lengthAdjust="spacingAndGlyphs" stroke="#111" stroke-width="0.3">MAPS RBD</text>
<text transform="translate(360.2,419.9) rotate(-90)" x="0" y="0" font-size="8.0" font-weight="bold" fill="#111" textLength="22.6" lengthAdjust="spacingAndGlyphs" stroke="#111" stroke-width="0.3">Ladder</text>
<text transform="translate(369.6,418.5) rotate(-90)" x="0" y="0" font-size="8.0" font-weight="bold" fill="#111" textLength="60.5" lengthAdjust="spacingAndGlyphs" stroke="#111" stroke-width="0.3">S_RBD-Rhizavidin</text>
<text transform="translate(377.6,418.5) rotate(-90)" x="0" y="0" font-size="8.0" font-weight="bold" fill="#111" textLength="19.8" lengthAdjust="spacingAndGlyphs" stroke="#111" stroke-width="0.3">PnPS1</text>
<text transform="translate(385.8,418.5) rotate(-90)" x="0" y="0" font-size="8.0" font-weight="bold" fill="#111" textLength="35.8" lengthAdjust="spacingAndGlyphs" stroke="#111" stroke-width="0.3">MAPS RBD</text>
<rect x="332.5" y="423.4" width="2.6" height="1.3" fill="#111" />
<rect x="340.5" y="423.4" width="2.6" height="1.3" fill="#111" />
<rect x="348.1" y="423.4" width="2.6" height="1.3" fill="#111" />
<text x="364.8" y="426.6" font-size="8.0" font-weight="bold" fill="#111" text-anchor="middle" stroke="#111" stroke-width="0.35" >+</text>
<text x="374.0" y="426.6" font-size="8.0" font-weight="bold" fill="#111" text-anchor="middle" stroke="#111" stroke-width="0.35" >+</text>
<text x="383.0" y="426.6" font-size="8.0" font-weight="bold" fill="#111" text-anchor="middle" stroke="#111" stroke-width="0.35" >+</text>
<text x="300.3" y="426.7" font-size="8.8" font-weight="bold" fill="#111" text-anchor="start" textLength="22.5" lengthAdjust="spacingAndGlyphs" stroke="#111" stroke-width="0.3" >Heated</text>
<rect x="327.6" y="426.8" width="64.7" height="119.0" fill="url(#fgel)" />
<rect x="327.6" y="426.8" width="64.7" height="4.5" fill="#b3b4b0" opacity="0.7"/>
<rect x="330.6" y="431.0" width="0.8" height="115.0" fill="#8f908c" opacity="0.2"/>
<rect x="338.6" y="431.0" width="0.8" height="115.0" fill="#8f908c" opacity="0.2"/>
<rect x="346.8" y="431.0" width="0.8" height="115.0" fill="#8f908c" opacity="0.2"/>
<rect x="363.4" y="431.0" width="0.8" height="115.0" fill="#8f908c" opacity="0.2"/>
<rect x="371.5" y="431.0" width="0.8" height="115.0" fill="#8f908c" opacity="0.2"/>
<rect x="379.6" y="431.0" width="0.8" height="115.0" fill="#8f908c" opacity="0.2"/>
<rect x="387.8" y="431.0" width="0.8" height="115.0" fill="#8f908c" opacity="0.2"/>
<g filter="url(#b2)">
<rect x="339.1" y="429" width="6.6" height="34" fill="url(#fsmear)"/>
<rect x="347.3" y="429" width="6.6" height="38" fill="url(#fsmear)"/>
<rect x="372.1" y="429" width="6.6" height="36" fill="url(#fsmear)"/>
<rect x="380.1" y="429" width="6.6" height="38" fill="url(#fsmear)"/>
</g>
<rect x="355.6" y="442" width="6.8" height="104" fill="#8d8e8a" opacity="0.45" filter="url(#b2)"/>
<g filter="url(#b15)">
<ellipse cx="334.5" cy="476.0" rx="3.5" ry="2.7" fill="#0c0c0c" />
<ellipse cx="350.6" cy="476.4" rx="2.7" ry="1.8" fill="#7a7a78" />
<ellipse cx="350.5" cy="430.2" rx="2.8" ry="1.0" fill="#1a1a1a" />
<rect x="355.8" y="447.0" width="6.4" height="3.2" rx="2" fill="#0a0a0a"/>
<rect x="355.8" y="454.8" width="6.4" height="3.2" rx="2" fill="#0a0a0a"/>
<rect x="355.8" y="462.7" width="6.4" height="3.2" rx="2" fill="#0a0a0a"/>
<rect x="355.8" y="467.3" width="6.4" height="3.4" rx="2" fill="#0a0a0a"/>
<rect x="355.8" y="482.7" width="6.4" height="4.8" rx="2" fill="#0a0a0a"/>
<rect x="355.8" y="495.2" width="6.4" height="4.2" rx="2" fill="#0a0a0a"/>
<rect x="355.8" y="511.0" width="6.4" height="5.2" rx="2" fill="#0a0a0a"/>
<rect x="355.8" y="521.0" width="6.4" height="3.4" rx="2" fill="#0a0a0a"/>
<rect x="355.8" y="531.9" width="6.4" height="2.9" rx="2" fill="#0a0a0a"/>
<rect x="355.8" y="544.1" width="6.4" height="2.4" rx="2" fill="#0a0a0a"/>
<rect x="364.0" y="488.7" width="6.6" height="6.0" rx="2" fill="#1a1a1a"/>
<rect x="380.9" y="488.7" width="6.4" height="6.0" rx="2" fill="#1a1a1a"/>
</g>
<text x="396.9" y="437.2" font-size="7.0" font-weight="normal" fill="#a6a6a6" text-anchor="start" textLength="10.2" lengthAdjust="spacingAndGlyphs" >Kda</text>
<line x1="396.9" y1="437.6" x2="407.1" y2="437.6" stroke="#c4c4c4" stroke-width="0.6" />
<path d="M395.6,446.6 L397.5,445.3 L397.5,447.9 Z" fill="#a6a6a6"/>
<line x1="397.2" y1="446.6" x2="400.0" y2="446.6" stroke="#a6a6a6" stroke-width="0.7" />
<text x="400.4" y="449.1" font-size="6.8" font-weight="normal" fill="#a0a0a0" text-anchor="start" textLength="9.2" lengthAdjust="spacingAndGlyphs" stroke="#a0a0a0" stroke-width="0.35" >250</text>
<path d="M395.6,453.3 L397.5,452.0 L397.5,454.6 Z" fill="#a6a6a6"/>
<line x1="397.2" y1="453.3" x2="400.0" y2="453.3" stroke="#a6a6a6" stroke-width="0.7" />
<text x="400.4" y="455.8" font-size="6.8" font-weight="normal" fill="#a0a0a0" text-anchor="start" textLength="9.2" lengthAdjust="spacingAndGlyphs" stroke="#a0a0a0" stroke-width="0.35" >150</text>
<path d="M395.6,460.0 L397.5,458.7 L397.5,461.3 Z" fill="#a6a6a6"/>
<line x1="397.2" y1="460.0" x2="400.0" y2="460.0" stroke="#a6a6a6" stroke-width="0.7" />
<text x="400.4" y="462.5" font-size="6.8" font-weight="normal" fill="#a0a0a0" text-anchor="start" textLength="9.2" lengthAdjust="spacingAndGlyphs" stroke="#a0a0a0" stroke-width="0.35" >100</text>
<path d="M395.6,465.7 L397.5,464.4 L397.5,467.0 Z" fill="#a6a6a6"/>
<line x1="397.2" y1="465.7" x2="400.0" y2="465.7" stroke="#a6a6a6" stroke-width="0.7" />
<text x="400.4" y="468.2" font-size="6.8" font-weight="normal" fill="#a0a0a0" text-anchor="start" textLength="6.2" lengthAdjust="spacingAndGlyphs" stroke="#a0a0a0" stroke-width="0.35" >75</text>
<path d="M395.6,479.7 L397.5,478.4 L397.5,481.0 Z" fill="#a6a6a6"/>
<line x1="397.2" y1="479.7" x2="400.0" y2="479.7" stroke="#a6a6a6" stroke-width="0.7" />
<text x="400.4" y="482.2" font-size="6.8" font-weight="normal" fill="#a0a0a0" text-anchor="start" textLength="6.2" lengthAdjust="spacingAndGlyphs" stroke="#a0a0a0" stroke-width="0.35" >50</text>
<path d="M395.6,491.3 L397.5,490.0 L397.5,492.6 Z" fill="#a6a6a6"/>
<line x1="397.2" y1="491.3" x2="400.0" y2="491.3" stroke="#a6a6a6" stroke-width="0.7" />
<text x="400.4" y="493.8" font-size="6.8" font-weight="normal" fill="#a0a0a0" text-anchor="start" textLength="6.2" lengthAdjust="spacingAndGlyphs" stroke="#a0a0a0" stroke-width="0.35" >37</text>
<path d="M395.6,507.0 L397.5,505.7 L397.5,508.3 Z" fill="#a6a6a6"/>
<line x1="397.2" y1="507.0" x2="400.0" y2="507.0" stroke="#a6a6a6" stroke-width="0.7" />
<text x="400.4" y="509.5" font-size="6.8" font-weight="normal" fill="#a0a0a0" text-anchor="start" textLength="6.2" lengthAdjust="spacingAndGlyphs" stroke="#a0a0a0" stroke-width="0.35" >25</text>
<path d="M395.6,515.4 L397.5,514.1 L397.5,516.7 Z" fill="#a6a6a6"/>
<line x1="397.2" y1="515.4" x2="400.0" y2="515.4" stroke="#a6a6a6" stroke-width="0.7" />
<text x="400.4" y="517.9" font-size="6.8" font-weight="normal" fill="#a0a0a0" text-anchor="start" textLength="6.2" lengthAdjust="spacingAndGlyphs" stroke="#a0a0a0" stroke-width="0.35" >20</text>
<path d="M395.6,525.2 L397.5,523.9 L397.5,526.5 Z" fill="#a6a6a6"/>
<line x1="397.2" y1="525.2" x2="400.0" y2="525.2" stroke="#a6a6a6" stroke-width="0.7" />
<text x="400.4" y="527.7" font-size="6.8" font-weight="normal" fill="#a0a0a0" text-anchor="start" textLength="6.2" lengthAdjust="spacingAndGlyphs" stroke="#a0a0a0" stroke-width="0.35" >15</text>
<path d="M395.6,534.5 L397.5,533.2 L397.5,535.8 Z" fill="#a6a6a6"/>
<line x1="397.2" y1="534.5" x2="400.0" y2="534.5" stroke="#a6a6a6" stroke-width="0.7" />
<text x="400.4" y="537.0" font-size="6.8" font-weight="normal" fill="#a0a0a0" text-anchor="start" textLength="6.2" lengthAdjust="spacingAndGlyphs" stroke="#a0a0a0" stroke-width="0.35" >10</text>
<text x="295.9" y="478.4" font-size="8.8" font-weight="bold" fill="#111" text-anchor="start" textLength="18.9" lengthAdjust="spacingAndGlyphs" stroke="#111" stroke-width="0.3" >Dimer</text>
<path d="M320.7,475.5 L325.9,475.5 M324.1,473.3 L326.5,475.5 L324.1,477.7" fill="none" stroke="#111" stroke-width="1.0"/>
<path d="M414.8,487.4 L409.1,487.4 M410.8,485.3 L408.5,487.4 L410.8,489.5" fill="none" stroke="#111" stroke-width="0.9"/>
<text x="414.8" y="489.9" font-size="8.8" font-weight="bold" fill="#111" text-anchor="start" textLength="31.2" lengthAdjust="spacingAndGlyphs" stroke="#111" stroke-width="0.3" font-style="italic">Monomer</text>
</svg>
</body></html>
